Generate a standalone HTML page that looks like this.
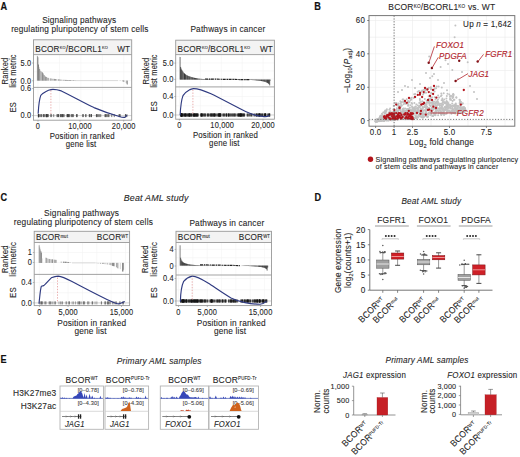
<!DOCTYPE html>
<html><head><meta charset="utf-8"><title>Figure</title>
<style>
html,body{margin:0;padding:0;background:#fff;}
body{width:520px;height:457px;overflow:hidden;}
svg{display:block;font-family:"Liberation Sans",sans-serif;}
</style></head><body>
<svg width="520" height="457" viewBox="0 0 520 457">
<rect width="520" height="457" fill="#fff"/>
<text font-size="9.17" font-weight="bold" letter-spacing="0.19" fill="#111" stroke="#111" stroke-width="0.15" transform="translate(0.60 9.90) scale(1 1.2)">A</text>
<text font-size="9.17" font-weight="bold" letter-spacing="0.19" fill="#111" stroke="#111" stroke-width="0.15" transform="translate(314.30 9.90) scale(1 1.2)">B</text>
<text font-size="9.17" font-weight="bold" letter-spacing="0.19" fill="#111" stroke="#111" stroke-width="0.15" transform="translate(0.60 200.80) scale(1 1.2)">C</text>
<text font-size="9.17" font-weight="bold" letter-spacing="0.19" fill="#111" stroke="#111" stroke-width="0.15" transform="translate(314.60 200.80) scale(1 1.2)">D</text>
<text font-size="9.17" font-weight="bold" letter-spacing="0.19" fill="#111" stroke="#111" stroke-width="0.15" transform="translate(0.60 363.30) scale(1 1.2)">E</text>
<line x1="38.00" y1="54.60" x2="38.00" y2="120.20" stroke="#f3f3f3" stroke-width="0.6"/>
<line x1="59.45" y1="54.60" x2="59.45" y2="120.20" stroke="#f3f3f3" stroke-width="0.6"/>
<line x1="80.90" y1="54.60" x2="80.90" y2="120.20" stroke="#f3f3f3" stroke-width="0.6"/>
<line x1="102.35" y1="54.60" x2="102.35" y2="120.20" stroke="#f3f3f3" stroke-width="0.6"/>
<line x1="123.80" y1="54.60" x2="123.80" y2="120.20" stroke="#f3f3f3" stroke-width="0.6"/>
<line x1="33.50" y1="63.00" x2="131.70" y2="63.00" stroke="#f3f3f3" stroke-width="0.6"/>
<line x1="33.50" y1="71.80" x2="131.70" y2="71.80" stroke="#f3f3f3" stroke-width="0.6"/>
<line x1="33.50" y1="80.60" x2="131.70" y2="80.60" stroke="#f3f3f3" stroke-width="0.6"/>
<line x1="33.50" y1="89.40" x2="131.70" y2="89.40" stroke="#f3f3f3" stroke-width="0.6"/>
<line x1="33.50" y1="102.50" x2="131.70" y2="102.50" stroke="#f3f3f3" stroke-width="0.6"/>
<line x1="33.50" y1="115.60" x2="131.70" y2="115.60" stroke="#f3f3f3" stroke-width="0.6"/>
<rect x="33.50" y="39.80" width="98.20" height="14.80" fill="#f3f3f3" stroke="none" stroke-width="1"/>
<path d="M37.40 80.60V55.90 M42.35 80.60V72.17 M52.80 80.60V78.75 M59.40 80.60V79.47 M69.30 80.60V80.07" stroke="#6a6a6a" stroke-width="0.60" fill="none" opacity="1.0"/><path d="M37.95 80.60V57.25 M45.65 80.60V76.69 M47.85 80.60V77.79 M51.15 80.60V78.54 M58.30 80.60V79.34 M61.05 80.60V79.68 M66.00 80.60V79.95 M68.20 80.60V80.03 M70.40 80.60V80.11 M70.95 80.60V80.12 M72.05 80.60V80.14 M73.15 80.60V80.16 M74.80 80.60V80.20" stroke="#5a5a5a" stroke-width="0.60" fill="none" opacity="1.0"/><path d="M38.50 80.60V64.50 M39.60 80.60V69.04 M42.90 80.60V73.07 M44.00 80.60V75.00 M46.20 80.60V77.01 M54.45 80.60V78.94 M55.55 80.60V79.05 M65.45 80.60V79.93 M67.10 80.60V79.99 M69.85 80.60V80.09 M73.70 80.60V80.17" stroke="#4a4a4a" stroke-width="0.60" fill="none" opacity="1.0"/><path d="M39.05 80.60V67.25 M48.40 80.60V77.94 M56.65 80.60V79.16 M63.80 80.60V79.87 M64.35 80.60V79.89 M66.55 80.60V79.97 M67.65 80.60V80.01" stroke="#8a8a8a" stroke-width="0.60" fill="none" opacity="1.0"/><path d="M40.15 80.60V70.47 M40.70 80.60V71.05 M41.25 80.60V71.55 M41.80 80.60V71.87 M43.45 80.60V74.04 M44.55 80.60V75.59 M45.10 80.60V76.17 M46.75 80.60V77.34 M50.05 80.60V78.41 M50.60 80.60V78.47 M53.90 80.60V78.89 M58.85 80.60V79.41 M60.50 80.60V79.61 M62.15 80.60V79.81 M63.25 80.60V79.85 M68.75 80.60V80.05" stroke="#a0a0a0" stroke-width="0.60" fill="none" opacity="1.0"/><path d="M120.20 80.60V81.02 M126.25 80.60V83.12" stroke="#8a8a8a" stroke-width="0.60" fill="none" opacity="1.0"/><path d="M122.40 80.60V81.24 M126.80 80.60V84.17" stroke="#a0a0a0" stroke-width="0.60" fill="none" opacity="1.0"/><path d="M122.95 80.60V81.30 M123.50 80.60V81.44 M124.05 80.60V81.59 M127.35 80.60V84.52" stroke="#5a5a5a" stroke-width="0.60" fill="none" opacity="1.0"/><path d="M75 80.6H118" stroke="#bbb" stroke-width="0.5"/>
<line x1="33.50" y1="115.60" x2="131.70" y2="115.60" stroke="#c4c4c4" stroke-width="0.7"/>
<path d="M41.91 114.10v3.0 M107.13 114.10v3.0 M96.58 114.10v3.0 M48.38 114.10v3.0 M67.46 114.10v3.0 M63.25 114.10v3.0 M83.50 114.10v3.0 M99.66 114.10v3.0 M40.34 114.10v3.0 M38.60 114.10v3.0 M105.62 114.10v3.0 M61.79 114.10v3.0 M96.40 114.10v3.0 M38.30 114.10v3.0 M62.89 114.10v3.0 M91.51 114.10v3.0 M46.77 114.10v3.0 M120.28 114.10v3.0 M114.28 114.10v3.0 M38.64 114.10v3.0 M38.55 114.10v3.0 M71.91 114.10v3.0 M119.43 114.10v3.0 M57.47 114.10v3.0 M46.06 114.10v3.0 M60.87 114.10v3.0 M38.61 114.10v3.0 M46.35 114.10v3.0 M62.23 114.10v3.0 M67.49 114.10v3.0 M47.03 114.10v3.0 M46.89 114.10v3.0 M46.19 114.10v3.0 M64.16 114.10v3.0 M50.66 114.10v3.0 M38.49 114.10v3.0 M105.85 114.10v3.0 M73.41 114.10v3.0 M82.47 114.10v3.0 M44.38 114.10v3.0 M126.93 114.10v3.0 M108.76 114.10v3.0 M41.35 114.10v3.0 M53.72 114.10v3.0 M91.51 114.10v3.0 M90.30 114.10v3.0 M119.05 114.10v3.0 M60.87 114.10v3.0 M104.88 114.10v3.0 M85.60 114.10v3.0 M51.60 114.10v3.0 M76.61 114.10v3.0 M111.74 114.10v3.0 M106.97 114.10v3.0 M68.39 114.10v3.0 M76.76 114.10v3.0 M38.71 114.10v3.0 M47.61 114.10v3.0 M100.74 114.10v3.0 M60.20 114.10v3.0 M43.72 114.10v3.0 M72.64 114.10v3.0 M89.35 114.10v3.0 M86.07 114.10v3.0 M56.95 114.10v3.0 M62.33 114.10v3.0 M68.69 114.10v3.0 M98.38 114.10v3.0 M69.90 114.10v3.0 M58.45 114.10v3.0 M66.92 114.10v3.0 M38.62 114.10v3.0 M38.89 114.10v3.0 M89.39 114.10v3.0 M125.60 114.10v3.0 M77.20 114.10v3.0 M58.48 114.10v3.0 M43.58 114.10v3.0 M68.10 114.10v3.0 M125.44 114.10v3.0 M97.41 114.10v3.0 M71.73 114.10v3.0 M108.81 114.10v3.0 M46.97 114.10v3.0 M69.20 114.10v3.0" stroke="#333" stroke-width="0.9" fill="none" opacity="0.7"/>
<line x1="50.90" y1="114.10" x2="50.90" y2="89.40" stroke="#e49a9a" stroke-width="0.8" stroke-dasharray="1.4 1.4"/>
<path d="M38.2 113.2 C38.6 106,39.4 99,40.8 95.4 L42.6 93.6 C44 92.7,46 91.3,48.5 90.3 C50 89.8,51.5 89.4,53 89.4 C56 89.4,58.5 90,61.3 90.9 C70 95,85 103.4,94 107.6 C102 111,110 113.8,118.5 116.2 C121 117,123 117.5,124.5 117.4 C125.5 117.2,126.2 116.5,126.7 115.4" fill="none" stroke="#2f3a80" stroke-width="1.15" stroke-linejoin="round" stroke-linecap="round"/>
<rect x="33.50" y="39.80" width="98.20" height="80.40" fill="none" stroke="#999" stroke-width="0.9"/>
<line x1="33.50" y1="54.60" x2="131.70" y2="54.60" stroke="#999" stroke-width="0.9"/>
<line x1="33.50" y1="87.40" x2="131.70" y2="87.40" stroke="#999" stroke-width="0.9"/>
<text font-size="8.21" letter-spacing="0.17" fill="#262626" stroke="#262626" stroke-width="0.09" transform="translate(35.30 51.60) scale(1 1.1)"><tspan>BCOR</tspan><tspan font-size="3.94" dy="-2.41">KO</tspan><tspan dy="2.41">/BCORL1</tspan><tspan font-size="3.94" dy="-2.41">KO</tspan></text>
<text font-size="8.21" text-anchor="end" letter-spacing="0.17" fill="#262626" stroke="#262626" stroke-width="0.09" transform="translate(130.30 51.60) scale(1 1.1)">WT</text>
<text font-size="7.45" text-anchor="end" letter-spacing="0.16" fill="#262626" stroke="#262626" stroke-width="0.09" transform="translate(31.30 65.75) scale(1 1.1)">5.0</text>
<line x1="32.10" y1="63.00" x2="33.50" y2="63.00" stroke="#8c8c8c" stroke-width="0.6"/>
<text font-size="7.45" text-anchor="end" letter-spacing="0.16" fill="#262626" stroke="#262626" stroke-width="0.09" transform="translate(31.30 83.55) scale(1 1.1)">0.0</text>
<line x1="32.10" y1="80.80" x2="33.50" y2="80.80" stroke="#8c8c8c" stroke-width="0.6"/>
<text font-size="7.45" text-anchor="end" letter-spacing="0.16" fill="#262626" stroke="#262626" stroke-width="0.09" transform="translate(31.30 91.35) scale(1 1.1)">0.6</text>
<line x1="32.10" y1="88.60" x2="33.50" y2="88.60" stroke="#8c8c8c" stroke-width="0.6"/>
<text font-size="7.45" text-anchor="end" letter-spacing="0.16" fill="#262626" stroke="#262626" stroke-width="0.09" transform="translate(31.30 118.35) scale(1 1.1)">0.0</text>
<line x1="32.10" y1="115.60" x2="33.50" y2="115.60" stroke="#8c8c8c" stroke-width="0.6"/>
<text font-size="7.45" text-anchor="middle" letter-spacing="0.16" fill="#262626" stroke="#262626" stroke-width="0.09" transform="translate(38.00 128.70) scale(1 1.1)">0</text>
<line x1="38.00" y1="120.20" x2="38.00" y2="121.60" stroke="#8c8c8c" stroke-width="0.6"/>
<text font-size="7.45" text-anchor="middle" letter-spacing="0.16" fill="#262626" stroke="#262626" stroke-width="0.09" transform="translate(80.00 128.70) scale(1 1.1)">10,000</text>
<line x1="80.00" y1="120.20" x2="80.00" y2="121.60" stroke="#8c8c8c" stroke-width="0.6"/>
<text font-size="7.45" text-anchor="middle" letter-spacing="0.16" fill="#262626" stroke="#262626" stroke-width="0.09" transform="translate(123.70 128.70) scale(1 1.1)">20,000</text>
<line x1="123.70" y1="120.20" x2="123.70" y2="121.60" stroke="#8c8c8c" stroke-width="0.6"/>
<text font-size="7.54" text-anchor="middle" letter-spacing="0.16" fill="#262626" stroke="#262626" stroke-width="0.09" transform="translate(8.10 71.00) rotate(-90) scale(1 1.1)">Ranked</text>
<text font-size="7.54" text-anchor="middle" letter-spacing="0.16" fill="#262626" stroke="#262626" stroke-width="0.09" transform="translate(16.00 71.00) rotate(-90) scale(1 1.1)">list metric</text>
<text font-size="7.54" text-anchor="middle" letter-spacing="0.16" fill="#262626" stroke="#262626" stroke-width="0.09" transform="translate(16.00 107.20) rotate(-90) scale(1 1.1)">ES</text>
<text font-size="7.83" text-anchor="middle" letter-spacing="0.16" fill="#262626" stroke="#262626" stroke-width="0.09" transform="translate(82.20 138.50) scale(1 1.1)">Position in ranked</text>
<text font-size="7.83" text-anchor="middle" letter-spacing="0.16" fill="#262626" stroke="#262626" stroke-width="0.09" transform="translate(81.10 146.70) scale(1 1.1)">gene list</text>
<text font-size="8.26" text-anchor="middle" letter-spacing="0.17" fill="#262626" stroke="#262626" stroke-width="0.09" transform="translate(79.20 22.90) scale(1 1.1)">Signaling pathways</text>
<text font-size="8.26" text-anchor="middle" letter-spacing="0.17" fill="#262626" stroke="#262626" stroke-width="0.09" transform="translate(79.90 32.10) scale(1 1.1)">regulating pluripotency of stem cells</text>
<line x1="179.50" y1="54.60" x2="179.50" y2="119.20" stroke="#f3f3f3" stroke-width="0.6"/>
<line x1="200.40" y1="54.60" x2="200.40" y2="119.20" stroke="#f3f3f3" stroke-width="0.6"/>
<line x1="221.30" y1="54.60" x2="221.30" y2="119.20" stroke="#f3f3f3" stroke-width="0.6"/>
<line x1="242.20" y1="54.60" x2="242.20" y2="119.20" stroke="#f3f3f3" stroke-width="0.6"/>
<line x1="263.10" y1="54.60" x2="263.10" y2="119.20" stroke="#f3f3f3" stroke-width="0.6"/>
<line x1="175.70" y1="63.00" x2="274.40" y2="63.00" stroke="#f3f3f3" stroke-width="0.6"/>
<line x1="175.70" y1="71.00" x2="274.40" y2="71.00" stroke="#f3f3f3" stroke-width="0.6"/>
<line x1="175.70" y1="79.00" x2="274.40" y2="79.00" stroke="#f3f3f3" stroke-width="0.6"/>
<line x1="175.70" y1="87.30" x2="274.40" y2="87.30" stroke="#f3f3f3" stroke-width="0.6"/>
<line x1="175.70" y1="96.50" x2="274.40" y2="96.50" stroke="#f3f3f3" stroke-width="0.6"/>
<line x1="175.70" y1="105.80" x2="274.40" y2="105.80" stroke="#f3f3f3" stroke-width="0.6"/>
<line x1="175.70" y1="115.00" x2="274.40" y2="115.00" stroke="#f3f3f3" stroke-width="0.6"/>
<rect x="175.70" y="40.20" width="98.70" height="14.40" fill="#f3f3f3" stroke="none" stroke-width="1"/>
<path d="M180.10 79.60V57.00 M181.75 79.60V69.87 M187.80 79.60V75.74 M188.35 79.60V76.02 M191.65 79.60V77.08 M192.20 79.60V77.26 M192.75 79.60V77.43 M195.50 79.60V78.07 M202.65 79.60V79.00 M204.85 79.60V79.19 M205.95 79.60V79.23 M213.10 79.60V79.44" stroke="#1a1a1a" stroke-width="0.60" fill="none" opacity="1.0"/><path d="M180.65 79.60V66.95 M181.20 79.60V68.60 M182.85 79.60V71.49 M183.95 79.60V72.97 M185.05 79.60V73.95 M187.25 79.60V75.45 M189.45 79.60V76.40 M190.00 79.60V76.57 M193.30 79.60V77.60 M196.05 79.60V78.19 M199.35 79.60V78.72 M201.55 79.60V78.90 M208.70 79.60V79.31 M209.80 79.60V79.34 M210.90 79.60V79.38 M211.45 79.60V79.39 M212.55 79.60V79.43" stroke="#111" stroke-width="0.60" fill="none" opacity="1.0"/><path d="M182.30 79.60V70.68 M186.70 79.60V75.16 M197.15 79.60V78.42 M198.25 79.60V78.62 M203.20 79.60V79.05 M206.50 79.60V79.25 M207.60 79.60V79.28 M210.35 79.60V79.36" stroke="#333" stroke-width="0.60" fill="none" opacity="1.0"/><path d="M183.40 79.60V72.31 M186.15 79.60V74.88 M188.90 79.60V76.23 M190.55 79.60V76.74 M191.10 79.60V76.91 M193.85 79.60V77.72 M198.80 79.60V78.67 M199.90 79.60V78.76 M200.45 79.60V78.81 M201.00 79.60V78.86 M202.10 79.60V78.95 M205.40 79.60V79.21 M207.05 79.60V79.26 M208.15 79.60V79.29 M209.25 79.60V79.33 M212.00 79.60V79.41" stroke="#4d4d4d" stroke-width="0.60" fill="none" opacity="1.0"/><path d="M184.50 79.60V73.46 M185.60 79.60V74.44 M194.40 79.60V77.83 M194.95 79.60V77.95 M196.60 79.60V78.30 M197.70 79.60V78.54 M203.75 79.60V79.09 M204.30 79.60V79.14" stroke="#000" stroke-width="0.60" fill="none" opacity="1.0"/><path d="M244.95 79.60V79.77 M247.70 79.60V79.86 M252.10 79.60V80.06 M254.85 79.60V80.19 M256.50 79.60V80.38 M258.70 79.60V80.64 M259.25 79.60V80.71 M264.20 79.60V81.57 M264.75 79.60V81.78 M265.30 79.60V81.98" stroke="#1a1a1a" stroke-width="0.60" fill="none" opacity="1.0"/><path d="M245.50 79.60V79.78 M251.00 79.60V80.00 M253.75 79.60V80.14 M254.30 79.60V80.17 M255.95 79.60V80.31 M257.60 79.60V80.51 M258.15 79.60V80.58 M259.80 79.60V80.78 M260.35 79.60V80.86 M260.90 79.60V80.96 M262.55 79.60V81.25 M266.40 79.60V82.38 M268.05 79.60V83.34 M269.15 79.60V84.30 M270.25 79.60V80.67" stroke="#333" stroke-width="0.60" fill="none" opacity="1.0"/><path d="M246.05 79.60V79.80 M248.25 79.60V79.88 M248.80 79.60V79.89 M249.35 79.60V79.92 M251.55 79.60V80.03 M255.40 79.60V80.25 M257.05 79.60V80.45 M261.45 79.60V81.05 M266.95 79.60V82.58 M268.60 79.60V83.72" stroke="#000" stroke-width="0.60" fill="none" opacity="1.0"/><path d="M246.60 79.60V79.82 M247.15 79.60V79.84 M249.90 79.60V79.95 M263.10 79.60V81.34 M265.85 79.60V82.18" stroke="#4d4d4d" stroke-width="0.60" fill="none" opacity="1.0"/><path d="M250.45 79.60V79.97 M252.65 79.60V80.08 M253.20 79.60V80.11 M262.00 79.60V81.15 M263.65 79.60V81.44 M267.50 79.60V82.95 M269.70 79.60V85.40" stroke="#111" stroke-width="0.60" fill="none" opacity="1.0"/><path d="M205 79.0L250 79.7" stroke="#222" stroke-width="1.2" stroke-dasharray="3 0.8 1.5 0.6"/>
<line x1="175.70" y1="115.00" x2="274.40" y2="115.00" stroke="#c4c4c4" stroke-width="0.7"/>
<path d="M265.10 113.50v3.0 M264.20 113.50v3.0 M182.87 113.50v3.0 M184.50 113.50v3.0 M251.97 113.50v3.0 M241.48 113.50v3.0 M234.69 113.50v3.0 M200.97 113.50v3.0 M228.30 113.50v3.0 M228.39 113.50v3.0 M225.87 113.50v3.0 M189.35 113.50v3.0 M211.66 113.50v3.0 M208.33 113.50v3.0 M240.14 113.50v3.0 M269.42 113.50v3.0 M264.37 113.50v3.0 M222.28 113.50v3.0 M212.95 113.50v3.0 M197.70 113.50v3.0 M181.80 113.50v3.0 M181.40 113.50v3.0 M214.80 113.50v3.0 M201.84 113.50v3.0 M207.13 113.50v3.0 M258.05 113.50v3.0 M220.51 113.50v3.0 M223.85 113.50v3.0 M195.15 113.50v3.0 M181.24 113.50v3.0 M202.40 113.50v3.0 M187.85 113.50v3.0 M219.04 113.50v3.0 M269.85 113.50v3.0 M235.17 113.50v3.0 M191.04 113.50v3.0 M258.24 113.50v3.0 M247.85 113.50v3.0 M241.32 113.50v3.0 M259.66 113.50v3.0 M244.28 113.50v3.0 M247.11 113.50v3.0 M204.85 113.50v3.0 M267.87 113.50v3.0 M265.75 113.50v3.0 M189.55 113.50v3.0 M243.35 113.50v3.0 M239.33 113.50v3.0 M214.47 113.50v3.0 M220.95 113.50v3.0 M217.13 113.50v3.0 M261.66 113.50v3.0 M218.15 113.50v3.0 M251.55 113.50v3.0 M204.86 113.50v3.0 M257.08 113.50v3.0 M258.91 113.50v3.0 M214.44 113.50v3.0 M224.55 113.50v3.0 M261.17 113.50v3.0 M240.22 113.50v3.0 M216.82 113.50v3.0 M194.04 113.50v3.0 M202.36 113.50v3.0 M237.73 113.50v3.0 M189.90 113.50v3.0 M259.81 113.50v3.0 M197.69 113.50v3.0 M260.19 113.50v3.0 M201.09 113.50v3.0 M265.25 113.50v3.0 M238.41 113.50v3.0 M218.47 113.50v3.0 M219.75 113.50v3.0 M232.84 113.50v3.0 M226.53 113.50v3.0 M201.28 113.50v3.0 M192.97 113.50v3.0 M219.20 113.50v3.0 M262.69 113.50v3.0 M230.02 113.50v3.0 M183.94 113.50v3.0 M250.36 113.50v3.0 M240.44 113.50v3.0 M259.78 113.50v3.0 M191.74 113.50v3.0 M242.39 113.50v3.0 M182.99 113.50v3.0 M232.99 113.50v3.0 M198.09 113.50v3.0 M194.41 113.50v3.0 M256.28 113.50v3.0 M185.84 113.50v3.0 M220.19 113.50v3.0 M253.95 113.50v3.0 M195.83 113.50v3.0 M193.17 113.50v3.0 M256.83 113.50v3.0 M210.96 113.50v3.0 M239.51 113.50v3.0 M181.61 113.50v3.0 M205.59 113.50v3.0 M190.32 113.50v3.0 M234.99 113.50v3.0 M184.39 113.50v3.0 M264.94 113.50v3.0 M181.31 113.50v3.0 M240.80 113.50v3.0 M181.12 113.50v3.0 M196.69 113.50v3.0 M249.61 113.50v3.0 M189.26 113.50v3.0 M191.18 113.50v3.0 M236.90 113.50v3.0 M207.62 113.50v3.0 M182.16 113.50v3.0 M268.88 113.50v3.0 M188.86 113.50v3.0 M181.82 113.50v3.0 M204.02 113.50v3.0 M229.22 113.50v3.0 M242.15 113.50v3.0 M186.28 113.50v3.0 M203.42 113.50v3.0 M181.56 113.50v3.0 M213.30 113.50v3.0 M244.61 113.50v3.0 M241.89 113.50v3.0 M259.16 113.50v3.0 M243.53 113.50v3.0 M254.87 113.50v3.0 M238.32 113.50v3.0 M215.53 113.50v3.0 M194.33 113.50v3.0 M233.78 113.50v3.0 M201.65 113.50v3.0 M185.57 113.50v3.0 M213.22 113.50v3.0 M256.20 113.50v3.0 M187.23 113.50v3.0 M226.24 113.50v3.0 M208.28 113.50v3.0 M219.47 113.50v3.0 M188.34 113.50v3.0 M265.51 113.50v3.0 M196.96 113.50v3.0 M228.31 113.50v3.0 M210.67 113.50v3.0 M180.99 113.50v3.0 M223.61 113.50v3.0 M188.11 113.50v3.0 M182.88 113.50v3.0 M181.69 113.50v3.0 M189.55 113.50v3.0 M185.18 113.50v3.0 M231.20 113.50v3.0 M218.85 113.50v3.0 M268.15 113.50v3.0 M262.68 113.50v3.0 M269.39 113.50v3.0 M194.86 113.50v3.0 M212.94 113.50v3.0 M196.30 113.50v3.0 M226.85 113.50v3.0 M230.11 113.50v3.0 M248.21 113.50v3.0 M238.74 113.50v3.0 M196.76 113.50v3.0 M210.97 113.50v3.0 M220.55 113.50v3.0 M180.51 113.50v3.0 M181.78 113.50v3.0 M209.68 113.50v3.0 M186.15 113.50v3.0 M240.21 113.50v3.0 M195.52 113.50v3.0 M185.42 113.50v3.0 M191.03 113.50v3.0 M194.79 113.50v3.0 M193.70 113.50v3.0 M220.04 113.50v3.0 M214.75 113.50v3.0 M201.10 113.50v3.0 M231.87 113.50v3.0 M193.32 113.50v3.0 M259.66 113.50v3.0 M265.89 113.50v3.0 M240.75 113.50v3.0 M211.94 113.50v3.0 M219.16 113.50v3.0" stroke="#111" stroke-width="0.9" fill="none" opacity="0.8"/>
<line x1="192.90" y1="113.50" x2="192.90" y2="88.80" stroke="#e49a9a" stroke-width="0.8" stroke-dasharray="1.4 1.4"/>
<path d="M180.2 114.8 C180.6 106,181.5 99.5,183 95.6 C184.8 92.4,187.5 91,190 89.6 C191.5 89,192.3 88.6,193.5 88.6 C198 88.6,204 90.6,211 93.8 C221 98.6,234 105.8,245.6 111.6 C251 114.2,257 116,262.9 116.4 C265.5 116.8,267.5 116.6,269.2 115.5" fill="none" stroke="#2f3a80" stroke-width="1.15" stroke-linejoin="round" stroke-linecap="round"/>
<rect x="175.70" y="40.20" width="98.70" height="79.00" fill="none" stroke="#999" stroke-width="0.9"/>
<line x1="175.70" y1="54.60" x2="274.40" y2="54.60" stroke="#999" stroke-width="0.9"/>
<line x1="175.70" y1="86.90" x2="274.40" y2="86.90" stroke="#999" stroke-width="0.9"/>
<text font-size="8.21" letter-spacing="0.17" fill="#262626" stroke="#262626" stroke-width="0.09" transform="translate(177.50 51.60) scale(1 1.1)"><tspan>BCOR</tspan><tspan font-size="3.94" dy="-2.41">KO</tspan><tspan dy="2.41">/BCORL1</tspan><tspan font-size="3.94" dy="-2.41">KO</tspan></text>
<text font-size="8.21" text-anchor="end" letter-spacing="0.17" fill="#262626" stroke="#262626" stroke-width="0.09" transform="translate(273.00 51.60) scale(1 1.1)">WT</text>
<text font-size="7.45" text-anchor="end" letter-spacing="0.16" fill="#262626" stroke="#262626" stroke-width="0.09" transform="translate(173.50 65.85) scale(1 1.1)">5.0</text>
<line x1="174.30" y1="63.10" x2="175.70" y2="63.10" stroke="#8c8c8c" stroke-width="0.6"/>
<text font-size="7.45" text-anchor="end" letter-spacing="0.16" fill="#262626" stroke="#262626" stroke-width="0.09" transform="translate(173.50 82.15) scale(1 1.1)">0.0</text>
<line x1="174.30" y1="79.40" x2="175.70" y2="79.40" stroke="#8c8c8c" stroke-width="0.6"/>
<text font-size="7.45" text-anchor="end" letter-spacing="0.16" fill="#262626" stroke="#262626" stroke-width="0.09" transform="translate(173.50 99.25) scale(1 1.1)">0.4</text>
<line x1="174.30" y1="96.50" x2="175.70" y2="96.50" stroke="#8c8c8c" stroke-width="0.6"/>
<text font-size="7.45" text-anchor="end" letter-spacing="0.16" fill="#262626" stroke="#262626" stroke-width="0.09" transform="translate(173.50 117.75) scale(1 1.1)">0.0</text>
<line x1="174.30" y1="115.00" x2="175.70" y2="115.00" stroke="#8c8c8c" stroke-width="0.6"/>
<text font-size="7.45" text-anchor="middle" letter-spacing="0.16" fill="#262626" stroke="#262626" stroke-width="0.09" transform="translate(179.40 128.00) scale(1 1.1)">0</text>
<line x1="179.40" y1="119.20" x2="179.40" y2="120.60" stroke="#8c8c8c" stroke-width="0.6"/>
<text font-size="7.45" text-anchor="middle" letter-spacing="0.16" fill="#262626" stroke="#262626" stroke-width="0.09" transform="translate(222.20 128.00) scale(1 1.1)">10,000</text>
<line x1="222.20" y1="119.20" x2="222.20" y2="120.60" stroke="#8c8c8c" stroke-width="0.6"/>
<text font-size="7.45" text-anchor="middle" letter-spacing="0.16" fill="#262626" stroke="#262626" stroke-width="0.09" transform="translate(263.00 128.00) scale(1 1.1)">20,000</text>
<line x1="263.00" y1="119.20" x2="263.00" y2="120.60" stroke="#8c8c8c" stroke-width="0.6"/>
<text font-size="7.54" text-anchor="middle" letter-spacing="0.16" fill="#262626" stroke="#262626" stroke-width="0.09" transform="translate(148.60 71.00) rotate(-90) scale(1 1.1)">Ranked</text>
<text font-size="7.54" text-anchor="middle" letter-spacing="0.16" fill="#262626" stroke="#262626" stroke-width="0.09" transform="translate(157.20 71.00) rotate(-90) scale(1 1.1)">list metric</text>
<text font-size="7.54" text-anchor="middle" letter-spacing="0.16" fill="#262626" stroke="#262626" stroke-width="0.09" transform="translate(157.20 106.30) rotate(-90) scale(1 1.1)">ES</text>
<text font-size="7.83" text-anchor="middle" letter-spacing="0.16" fill="#262626" stroke="#262626" stroke-width="0.09" transform="translate(225.50 137.70) scale(1 1.1)">Position in ranked</text>
<text font-size="7.83" text-anchor="middle" letter-spacing="0.16" fill="#262626" stroke="#262626" stroke-width="0.09" transform="translate(224.40 145.90) scale(1 1.1)">gene list</text>
<text font-size="8.31" text-anchor="middle" letter-spacing="0.17" fill="#262626" stroke="#262626" stroke-width="0.09" transform="translate(227.90 32.20) scale(1 1.1)">Pathways in cancer</text>
<line x1="39.40" y1="242.50" x2="39.40" y2="305.60" stroke="#f3f3f3" stroke-width="0.6"/>
<line x1="53.75" y1="242.50" x2="53.75" y2="305.60" stroke="#f3f3f3" stroke-width="0.6"/>
<line x1="68.10" y1="242.50" x2="68.10" y2="305.60" stroke="#f3f3f3" stroke-width="0.6"/>
<line x1="82.45" y1="242.50" x2="82.45" y2="305.60" stroke="#f3f3f3" stroke-width="0.6"/>
<line x1="96.80" y1="242.50" x2="96.80" y2="305.60" stroke="#f3f3f3" stroke-width="0.6"/>
<line x1="111.15" y1="242.50" x2="111.15" y2="305.60" stroke="#f3f3f3" stroke-width="0.6"/>
<line x1="125.50" y1="242.50" x2="125.50" y2="305.60" stroke="#f3f3f3" stroke-width="0.6"/>
<line x1="34.20" y1="252.50" x2="129.60" y2="252.50" stroke="#f3f3f3" stroke-width="0.6"/>
<line x1="34.20" y1="262.50" x2="129.60" y2="262.50" stroke="#f3f3f3" stroke-width="0.6"/>
<line x1="34.20" y1="282.50" x2="129.60" y2="282.50" stroke="#f3f3f3" stroke-width="0.6"/>
<line x1="34.20" y1="292.70" x2="129.60" y2="292.70" stroke="#f3f3f3" stroke-width="0.6"/>
<line x1="34.20" y1="302.90" x2="129.60" y2="302.90" stroke="#f3f3f3" stroke-width="0.6"/>
<rect x="34.20" y="231.30" width="95.40" height="11.20" fill="#f3f3f3" stroke="none" stroke-width="1"/>
<path d="M39.20 262.90V245.30 M40.85 262.90V251.05 M46.35 262.90V257.90" stroke="#5a5a5a" stroke-width="0.60" fill="none" opacity="1.0"/><path d="M39.75 262.90V247.50 M40.30 262.90V249.40 M52.95 262.90V259.49 M61.20 262.90V261.50 M65.60 262.90V261.77" stroke="#8a8a8a" stroke-width="0.60" fill="none" opacity="1.0"/><path d="M41.40 262.90V252.61 M65.05 262.90V261.74 M66.15 262.90V261.81 M67.80 262.90V261.98" stroke="#4a4a4a" stroke-width="0.60" fill="none" opacity="1.0"/><path d="M41.95 262.90V258.45 M45.80 262.90V257.63 M47.45 262.90V258.43 M48.55 262.90V258.79 M50.20 262.90V259.05 M56.25 262.90V259.91 M66.70 262.90V261.87 M70.55 262.90V262.39" stroke="#a0a0a0" stroke-width="0.60" fill="none" opacity="1.0"/><path d="M49.65 262.90V258.96 M51.85 262.90V259.32 M52.40 262.90V259.40 M54.60 262.90V259.70 M55.70 262.90V259.84 M63.40 262.90V261.64 M63.95 262.90V261.67 M68.35 262.90V262.03 M68.90 262.90V262.09" stroke="#6a6a6a" stroke-width="0.60" fill="none" opacity="1.0"/><path d="M95.55 262.90V263.07 M97.20 262.90V263.26 M118.10 262.90V268.53" stroke="#a0a0a0" stroke-width="0.60" fill="none" opacity="1.0"/><path d="M96.10 262.90V263.13 M113.15 262.90V266.04" stroke="#4a4a4a" stroke-width="0.60" fill="none" opacity="1.0"/><path d="M97.75 262.90V263.33 M102.15 262.90V263.81 M112.05 262.90V265.62 M120.30 262.90V269.14" stroke="#bbb" stroke-width="0.60" fill="none" opacity="1.0"/><path d="M98.85 262.90V263.46 M102.70 262.90V263.87 M104.90 262.90V264.13 M107.65 262.90V264.55 M109.85 262.90V264.97 M114.25 262.90V266.30 M117.55 262.90V268.16 M123.60 262.90V269.80" stroke="#8a8a8a" stroke-width="0.60" fill="none" opacity="1.0"/><path d="M100.50 262.90V263.65 M103.25 262.90V263.93 M112.60 262.90V265.84 M122.50 262.90V271.50 M123.05 262.90V271.50" stroke="#5a5a5a" stroke-width="0.60" fill="none" opacity="1.0"/><path d="M103.80 262.90V263.98 M105.45 262.90V264.22 M106.55 262.90V264.38 M109.30 262.90V264.86" stroke="#ccc" stroke-width="0.60" fill="none" opacity="1.0"/><path d="M110.95 262.90V265.19 M113.70 262.90V266.17 M116.45 262.90V267.32" stroke="#6a6a6a" stroke-width="0.60" fill="none" opacity="1.0"/><path d="M72 262.9H95" stroke="#bbb" stroke-width="0.5"/>
<line x1="34.20" y1="302.90" x2="129.60" y2="302.90" stroke="#c4c4c4" stroke-width="0.7"/>
<path d="M50.82 301.40v3.0 M75.55 301.40v3.0 M60.50 301.40v3.0 M81.21 301.40v3.0 M83.33 301.40v3.0 M41.36 301.40v3.0 M39.70 301.40v3.0 M105.42 301.40v3.0 M52.27 301.40v3.0 M50.58 301.40v3.0 M123.49 301.40v3.0 M68.89 301.40v3.0 M105.31 301.40v3.0 M69.42 301.40v3.0 M84.65 301.40v3.0 M45.47 301.40v3.0 M84.23 301.40v3.0 M108.81 301.40v3.0 M73.62 301.40v3.0 M95.07 301.40v3.0 M87.88 301.40v3.0 M41.30 301.40v3.0 M96.86 301.40v3.0 M79.97 301.40v3.0 M55.25 301.40v3.0 M40.15 301.40v3.0 M108.53 301.40v3.0 M69.10 301.40v3.0 M92.73 301.40v3.0 M110.02 301.40v3.0 M92.24 301.40v3.0 M114.82 301.40v3.0 M62.52 301.40v3.0 M101.43 301.40v3.0 M66.67 301.40v3.0 M116.48 301.40v3.0 M110.03 301.40v3.0 M42.74 301.40v3.0 M44.67 301.40v3.0 M49.45 301.40v3.0 M119.94 301.40v3.0 M65.95 301.40v3.0 M83.42 301.40v3.0 M55.24 301.40v3.0 M72.17 301.40v3.0 M61.78 301.40v3.0 M59.00 301.40v3.0 M79.40 301.40v3.0 M79.32 301.40v3.0 M112.89 301.40v3.0 M88.95 301.40v3.0 M115.72 301.40v3.0 M107.51 301.40v3.0 M122.94 301.40v3.0 M87.86 301.40v3.0 M46.17 301.40v3.0 M107.99 301.40v3.0 M119.85 301.40v3.0 M112.94 301.40v3.0 M77.88 301.40v3.0 M92.21 301.40v3.0 M49.08 301.40v3.0 M104.77 301.40v3.0 M78.30 301.40v3.0 M54.07 301.40v3.0 M41.28 301.40v3.0 M107.24 301.40v3.0 M122.80 301.40v3.0 M42.34 301.40v3.0 M101.39 301.40v3.0" stroke="#444" stroke-width="0.8" fill="none" opacity="0.6"/>
<line x1="57.50" y1="301.40" x2="57.50" y2="276.30" stroke="#e49a9a" stroke-width="0.8" stroke-dasharray="1.4 1.4"/>
<path d="M39 303.2 L39.6 298 C40.2 292,40.8 288,41.3 286.3 L43.8 285.6 C46 284,48.5 280.5,51.3 277.8 C54 276.6,56 276.1,58.2 276.1 C62 276.5,66 278.4,72 281.5 C85 288.4,100 296.2,110.4 301.1 C114 302.7,116.5 303.9,118.5 303.9 C120.5 303.7,122.5 302.4,124.4 301.7" fill="none" stroke="#2f3a80" stroke-width="1.15" stroke-linejoin="round" stroke-linecap="round"/>
<rect x="34.20" y="231.30" width="95.40" height="74.30" fill="none" stroke="#999" stroke-width="0.9"/>
<line x1="34.20" y1="242.50" x2="129.60" y2="242.50" stroke="#999" stroke-width="0.9"/>
<line x1="34.20" y1="274.40" x2="129.60" y2="274.40" stroke="#999" stroke-width="0.9"/>
<text font-size="8.21" letter-spacing="0.17" fill="#262626" stroke="#262626" stroke-width="0.09" transform="translate(36.00 240.10) scale(1 1.1)"><tspan>BCOR</tspan><tspan font-size="4.27" dy="-2.24">mut</tspan></text>
<text font-size="8.21" text-anchor="end" letter-spacing="0.17" fill="#262626" stroke="#262626" stroke-width="0.09" transform="translate(128.20 240.10) scale(1 1.1)"><tspan>BCOR</tspan><tspan font-size="4.27" dy="-2.24">WT</tspan></text>
<text font-size="7.45" text-anchor="end" letter-spacing="0.16" fill="#262626" stroke="#262626" stroke-width="0.09" transform="translate(32.00 255.25) scale(1 1.1)">1</text>
<line x1="32.80" y1="252.50" x2="34.20" y2="252.50" stroke="#8c8c8c" stroke-width="0.6"/>
<text font-size="7.45" text-anchor="end" letter-spacing="0.16" fill="#262626" stroke="#262626" stroke-width="0.09" transform="translate(32.00 265.25) scale(1 1.1)">0</text>
<line x1="32.80" y1="262.50" x2="34.20" y2="262.50" stroke="#8c8c8c" stroke-width="0.6"/>
<text font-size="7.45" text-anchor="end" letter-spacing="0.16" fill="#262626" stroke="#262626" stroke-width="0.09" transform="translate(32.00 285.25) scale(1 1.1)">0.4</text>
<line x1="32.80" y1="282.50" x2="34.20" y2="282.50" stroke="#8c8c8c" stroke-width="0.6"/>
<text font-size="7.45" text-anchor="end" letter-spacing="0.16" fill="#262626" stroke="#262626" stroke-width="0.09" transform="translate(32.00 305.65) scale(1 1.1)">0.0</text>
<line x1="32.80" y1="302.90" x2="34.20" y2="302.90" stroke="#8c8c8c" stroke-width="0.6"/>
<text font-size="7.45" text-anchor="middle" letter-spacing="0.16" fill="#262626" stroke="#262626" stroke-width="0.09" transform="translate(39.40 315.10) scale(1 1.1)">0</text>
<line x1="39.40" y1="305.60" x2="39.40" y2="307.00" stroke="#8c8c8c" stroke-width="0.6"/>
<text font-size="7.45" text-anchor="middle" letter-spacing="0.16" fill="#262626" stroke="#262626" stroke-width="0.09" transform="translate(68.10 315.10) scale(1 1.1)">5,000</text>
<line x1="68.10" y1="305.60" x2="68.10" y2="307.00" stroke="#8c8c8c" stroke-width="0.6"/>
<text font-size="7.45" text-anchor="middle" letter-spacing="0.16" fill="#262626" stroke="#262626" stroke-width="0.09" transform="translate(121.50 315.10) scale(1 1.1)">15,000</text>
<line x1="121.50" y1="305.60" x2="121.50" y2="307.00" stroke="#8c8c8c" stroke-width="0.6"/>
<text font-size="7.83" text-anchor="middle" letter-spacing="0.16" fill="#262626" stroke="#262626" stroke-width="0.09" transform="translate(7.90 259.30) rotate(-90) scale(1 1.1)">Ranked</text>
<text font-size="7.83" text-anchor="middle" letter-spacing="0.16" fill="#262626" stroke="#262626" stroke-width="0.09" transform="translate(15.70 259.30) rotate(-90) scale(1 1.1)">list metric</text>
<text font-size="7.83" text-anchor="middle" letter-spacing="0.16" fill="#262626" stroke="#262626" stroke-width="0.09" transform="translate(15.70 292.50) rotate(-90) scale(1 1.1)">ES</text>
<text font-size="8.31" text-anchor="middle" letter-spacing="0.17" fill="#262626" stroke="#262626" stroke-width="0.09" transform="translate(91.70 325.50) scale(1 1.1)">Position in ranked</text>
<text font-size="8.31" text-anchor="middle" letter-spacing="0.17" fill="#262626" stroke="#262626" stroke-width="0.09" transform="translate(90.60 334.20) scale(1 1.1)">gene list</text>
<text font-size="8.36" text-anchor="middle" letter-spacing="0.18" fill="#262626" stroke="#262626" stroke-width="0.09" transform="translate(81.60 216.30) scale(1 1.1)">Signaling pathways</text>
<text font-size="8.36" text-anchor="middle" letter-spacing="0.18" fill="#262626" stroke="#262626" stroke-width="0.09" transform="translate(83.40 224.80) scale(1 1.1)">regulating pluripotency of stem cells</text>
<text font-size="8.88" text-anchor="middle" font-style="italic" letter-spacing="0.19" fill="#262626" stroke="#262626" stroke-width="0.09" transform="translate(156.10 200.60) scale(1 1.1)">Beat AML study</text>
<line x1="178.50" y1="242.50" x2="178.50" y2="305.60" stroke="#f3f3f3" stroke-width="0.6"/>
<line x1="192.85" y1="242.50" x2="192.85" y2="305.60" stroke="#f3f3f3" stroke-width="0.6"/>
<line x1="207.20" y1="242.50" x2="207.20" y2="305.60" stroke="#f3f3f3" stroke-width="0.6"/>
<line x1="221.55" y1="242.50" x2="221.55" y2="305.60" stroke="#f3f3f3" stroke-width="0.6"/>
<line x1="235.90" y1="242.50" x2="235.90" y2="305.60" stroke="#f3f3f3" stroke-width="0.6"/>
<line x1="250.25" y1="242.50" x2="250.25" y2="305.60" stroke="#f3f3f3" stroke-width="0.6"/>
<line x1="264.60" y1="242.50" x2="264.60" y2="305.60" stroke="#f3f3f3" stroke-width="0.6"/>
<line x1="176.00" y1="249.40" x2="271.50" y2="249.40" stroke="#f3f3f3" stroke-width="0.6"/>
<line x1="176.00" y1="257.70" x2="271.50" y2="257.70" stroke="#f3f3f3" stroke-width="0.6"/>
<line x1="176.00" y1="266.00" x2="271.50" y2="266.00" stroke="#f3f3f3" stroke-width="0.6"/>
<line x1="176.00" y1="278.50" x2="271.50" y2="278.50" stroke="#f3f3f3" stroke-width="0.6"/>
<line x1="176.00" y1="289.70" x2="271.50" y2="289.70" stroke="#f3f3f3" stroke-width="0.6"/>
<line x1="176.00" y1="301.00" x2="271.50" y2="301.00" stroke="#f3f3f3" stroke-width="0.6"/>
<rect x="176.00" y="231.30" width="95.50" height="11.20" fill="#f3f3f3" stroke="none" stroke-width="1"/>
<path d="M180.10 265.60V245.30 M183.95 265.60V262.75 M199.35 265.60V265.21 M202.65 265.60V265.32 M206.50 265.60V265.40 M212.55 265.60V265.42 M214.75 265.60V265.42" stroke="#333" stroke-width="0.60" fill="none" opacity="1.0"/><path d="M180.65 265.60V257.74 M186.15 265.60V263.62 M189.45 265.60V264.47 M193.30 265.60V264.88 M197.15 265.60V265.14 M198.80 265.60V265.19 M200.45 265.60V265.25 M203.75 265.60V265.36 M205.95 265.60V265.40 M210.35 265.60V265.41" stroke="#1a1a1a" stroke-width="0.60" fill="none" opacity="1.0"/><path d="M181.20 265.60V259.33 M187.80 265.60V264.07 M188.35 265.60V264.20 M191.10 265.60V264.69 M196.05 265.60V265.10 M199.90 265.60V265.23 M210.90 265.60V265.41 M212.00 265.60V265.42 M213.10 265.60V265.42 M214.20 265.60V265.42" stroke="#4d4d4d" stroke-width="0.60" fill="none" opacity="1.0"/><path d="M181.75 265.60V260.60 M182.30 265.60V261.47 M183.40 265.60V262.47 M185.05 265.60V263.31 M186.70 265.60V263.78 M187.25 265.60V263.93 M188.90 265.60V264.34 M190.00 265.60V264.60 M191.65 265.60V264.74 M192.75 265.60V264.83 M194.40 265.60V264.97 M196.60 265.60V265.12 M197.70 265.60V265.16 M201.55 265.60V265.29 M204.30 265.60V265.38 M207.05 265.60V265.41 M208.15 265.60V265.41 M209.25 265.60V265.41" stroke="#000" stroke-width="0.60" fill="none" opacity="1.0"/><path d="M182.85 265.60V262.18 M184.50 265.60V263.04 M185.60 265.60V263.47 M190.55 265.60V264.65 M192.20 265.60V264.78 M193.85 265.60V264.92 M194.95 265.60V265.01 M195.50 265.60V265.06 M198.25 265.60V265.18 M201.00 265.60V265.27 M202.10 265.60V265.30 M203.20 265.60V265.34 M204.85 265.60V265.39 M205.40 265.60V265.40 M207.60 265.60V265.41 M208.70 265.60V265.41 M209.80 265.60V265.41 M211.45 265.60V265.42 M213.65 265.60V265.42" stroke="#111" stroke-width="0.60" fill="none" opacity="1.0"/><path d="M241.85 265.60V265.75 M243.50 265.60V265.82 M244.05 265.60V265.84 M245.70 265.60V265.91 M246.25 265.60V265.93 M247.35 265.60V265.97 M252.30 265.60V266.25 M254.50 265.60V266.37 M263.85 265.60V267.65 M266.05 265.60V268.73 M267.15 265.60V270.63" stroke="#1a1a1a" stroke-width="0.60" fill="none" opacity="1.0"/><path d="M242.40 265.60V265.78 M255.60 265.60V266.46 M258.90 265.60V266.79 M263.30 265.60V267.53" stroke="#333" stroke-width="0.60" fill="none" opacity="1.0"/><path d="M242.95 265.60V265.80 M247.90 265.60V266.00 M249.00 265.60V266.06 M249.55 265.60V266.09 M250.10 265.60V266.12 M250.65 265.60V266.15 M251.20 265.60V266.18 M252.85 265.60V266.28 M253.95 265.60V266.34 M256.70 265.60V266.57 M257.25 265.60V266.62 M257.80 265.60V266.68 M260.55 265.60V266.96 M261.65 265.60V267.15 M264.95 265.60V268.07" stroke="#4d4d4d" stroke-width="0.60" fill="none" opacity="1.0"/><path d="M244.60 265.60V265.86 M245.15 265.60V265.89 M248.45 265.60V266.03 M253.40 265.60V266.31 M255.05 265.60V266.41 M258.35 265.60V266.74 M259.45 265.60V266.85 M260.00 265.60V266.90 M262.20 265.60V267.27 M262.75 265.60V267.40 M264.40 265.60V267.78" stroke="#000" stroke-width="0.60" fill="none" opacity="1.0"/><path d="M246.80 265.60V265.95 M251.75 265.60V266.21 M256.15 265.60V266.52 M261.10 265.60V267.02 M265.50 265.60V268.40 M266.60 265.60V269.25 M267.70 265.60V267.57" stroke="#111" stroke-width="0.60" fill="none" opacity="1.0"/><path d="M200 264.8L240 265.6" stroke="#222" stroke-width="1.2" stroke-dasharray="3 0.8 1.5 0.6"/>
<line x1="176.00" y1="301.00" x2="271.50" y2="301.00" stroke="#c4c4c4" stroke-width="0.7"/>
<path d="M196.94 299.50v3.0 M186.85 299.50v3.0 M210.32 299.50v3.0 M190.63 299.50v3.0 M184.33 299.50v3.0 M210.79 299.50v3.0 M258.89 299.50v3.0 M247.47 299.50v3.0 M244.08 299.50v3.0 M195.82 299.50v3.0 M222.79 299.50v3.0 M200.24 299.50v3.0 M191.98 299.50v3.0 M187.06 299.50v3.0 M195.22 299.50v3.0 M259.83 299.50v3.0 M250.21 299.50v3.0 M248.06 299.50v3.0 M247.47 299.50v3.0 M193.58 299.50v3.0 M202.98 299.50v3.0 M231.07 299.50v3.0 M240.91 299.50v3.0 M252.71 299.50v3.0 M255.18 299.50v3.0 M185.70 299.50v3.0 M229.11 299.50v3.0 M235.24 299.50v3.0 M220.01 299.50v3.0 M192.37 299.50v3.0 M217.12 299.50v3.0 M185.88 299.50v3.0 M260.53 299.50v3.0 M253.76 299.50v3.0 M223.78 299.50v3.0 M202.18 299.50v3.0 M258.00 299.50v3.0 M226.03 299.50v3.0 M255.40 299.50v3.0 M252.06 299.50v3.0 M220.23 299.50v3.0 M211.87 299.50v3.0 M228.47 299.50v3.0 M213.36 299.50v3.0 M191.11 299.50v3.0 M202.59 299.50v3.0 M248.63 299.50v3.0 M182.83 299.50v3.0 M183.03 299.50v3.0 M231.01 299.50v3.0 M200.55 299.50v3.0 M222.60 299.50v3.0 M216.91 299.50v3.0 M205.76 299.50v3.0 M266.73 299.50v3.0 M193.74 299.50v3.0 M211.77 299.50v3.0 M194.30 299.50v3.0 M231.59 299.50v3.0 M200.21 299.50v3.0 M206.86 299.50v3.0 M242.34 299.50v3.0 M203.89 299.50v3.0 M224.77 299.50v3.0 M257.55 299.50v3.0 M186.69 299.50v3.0 M184.01 299.50v3.0 M196.37 299.50v3.0 M244.08 299.50v3.0 M230.00 299.50v3.0 M197.05 299.50v3.0 M204.76 299.50v3.0 M192.35 299.50v3.0 M215.83 299.50v3.0 M182.81 299.50v3.0 M237.64 299.50v3.0 M256.73 299.50v3.0 M262.51 299.50v3.0 M241.20 299.50v3.0 M263.02 299.50v3.0 M181.36 299.50v3.0 M201.25 299.50v3.0 M263.63 299.50v3.0 M245.05 299.50v3.0 M211.56 299.50v3.0 M261.38 299.50v3.0 M230.47 299.50v3.0 M249.15 299.50v3.0 M201.62 299.50v3.0 M193.42 299.50v3.0 M214.51 299.50v3.0 M189.25 299.50v3.0 M209.07 299.50v3.0 M263.21 299.50v3.0 M204.78 299.50v3.0 M180.90 299.50v3.0 M182.93 299.50v3.0 M191.74 299.50v3.0 M245.86 299.50v3.0 M207.45 299.50v3.0 M201.36 299.50v3.0 M186.42 299.50v3.0 M265.19 299.50v3.0 M212.74 299.50v3.0 M194.71 299.50v3.0 M183.86 299.50v3.0 M183.60 299.50v3.0 M191.67 299.50v3.0 M235.72 299.50v3.0 M190.23 299.50v3.0 M182.69 299.50v3.0 M218.64 299.50v3.0 M197.99 299.50v3.0 M266.76 299.50v3.0 M188.22 299.50v3.0 M222.11 299.50v3.0 M244.91 299.50v3.0 M211.47 299.50v3.0 M265.77 299.50v3.0 M217.49 299.50v3.0 M197.41 299.50v3.0 M211.58 299.50v3.0 M182.44 299.50v3.0 M212.50 299.50v3.0 M197.95 299.50v3.0 M256.08 299.50v3.0 M250.42 299.50v3.0 M219.35 299.50v3.0 M182.13 299.50v3.0 M198.42 299.50v3.0 M197.45 299.50v3.0 M194.72 299.50v3.0 M196.58 299.50v3.0 M254.17 299.50v3.0 M189.64 299.50v3.0 M183.34 299.50v3.0 M259.88 299.50v3.0 M225.39 299.50v3.0 M266.06 299.50v3.0 M210.91 299.50v3.0 M257.22 299.50v3.0 M233.58 299.50v3.0 M246.54 299.50v3.0 M242.13 299.50v3.0 M218.97 299.50v3.0 M186.13 299.50v3.0 M194.95 299.50v3.0 M254.57 299.50v3.0 M257.11 299.50v3.0 M259.54 299.50v3.0 M205.23 299.50v3.0 M233.85 299.50v3.0 M247.37 299.50v3.0 M232.51 299.50v3.0 M248.85 299.50v3.0 M222.00 299.50v3.0 M233.65 299.50v3.0 M236.57 299.50v3.0 M199.55 299.50v3.0 M259.37 299.50v3.0 M262.67 299.50v3.0 M184.86 299.50v3.0 M264.13 299.50v3.0 M263.21 299.50v3.0 M234.92 299.50v3.0 M182.92 299.50v3.0 M257.03 299.50v3.0 M188.61 299.50v3.0 M263.88 299.50v3.0 M234.81 299.50v3.0 M183.93 299.50v3.0 M191.56 299.50v3.0 M231.83 299.50v3.0 M225.75 299.50v3.0 M242.30 299.50v3.0 M259.83 299.50v3.0 M195.55 299.50v3.0 M180.62 299.50v3.0 M259.32 299.50v3.0 M181.09 299.50v3.0" stroke="#111" stroke-width="0.9" fill="none" opacity="0.8"/>
<line x1="192.20" y1="299.50" x2="192.20" y2="276.30" stroke="#e49a9a" stroke-width="0.8" stroke-dasharray="1.4 1.4"/>
<path d="M180.4 301.2 C180.6 293,181.5 286,183.7 281.3 C186 278.5,189 276.8,192.2 276.1 C195 275.9,200 278,208 283 C214 286.8,222 292.6,231 298 C236 300.5,240 301.6,245 302.6 C250 303.6,256 304.2,260 304.2 C263 304,265 302.5,266.3 301.3" fill="none" stroke="#2f3a80" stroke-width="1.15" stroke-linejoin="round" stroke-linecap="round"/>
<rect x="176.00" y="231.30" width="95.50" height="74.30" fill="none" stroke="#999" stroke-width="0.9"/>
<line x1="176.00" y1="242.50" x2="271.50" y2="242.50" stroke="#999" stroke-width="0.9"/>
<line x1="176.00" y1="275.00" x2="271.50" y2="275.00" stroke="#999" stroke-width="0.9"/>
<text font-size="8.21" letter-spacing="0.17" fill="#262626" stroke="#262626" stroke-width="0.09" transform="translate(177.80 240.10) scale(1 1.1)"><tspan>BCOR</tspan><tspan font-size="4.27" dy="-2.24">mut</tspan></text>
<text font-size="8.21" text-anchor="end" letter-spacing="0.17" fill="#262626" stroke="#262626" stroke-width="0.09" transform="translate(270.10 240.10) scale(1 1.1)"><tspan>BCOR</tspan><tspan font-size="4.27" dy="-2.24">WT</tspan></text>
<text font-size="7.45" text-anchor="end" letter-spacing="0.16" fill="#262626" stroke="#262626" stroke-width="0.09" transform="translate(173.80 252.15) scale(1 1.1)">4</text>
<line x1="174.60" y1="249.40" x2="176.00" y2="249.40" stroke="#8c8c8c" stroke-width="0.6"/>
<text font-size="7.45" text-anchor="end" letter-spacing="0.16" fill="#262626" stroke="#262626" stroke-width="0.09" transform="translate(173.80 268.75) scale(1 1.1)">0</text>
<line x1="174.60" y1="266.00" x2="176.00" y2="266.00" stroke="#8c8c8c" stroke-width="0.6"/>
<text font-size="7.45" text-anchor="end" letter-spacing="0.16" fill="#262626" stroke="#262626" stroke-width="0.09" transform="translate(173.80 281.25) scale(1 1.1)">0.4</text>
<line x1="174.60" y1="278.50" x2="176.00" y2="278.50" stroke="#8c8c8c" stroke-width="0.6"/>
<text font-size="7.45" text-anchor="end" letter-spacing="0.16" fill="#262626" stroke="#262626" stroke-width="0.09" transform="translate(173.80 303.75) scale(1 1.1)">0.0</text>
<line x1="174.60" y1="301.00" x2="176.00" y2="301.00" stroke="#8c8c8c" stroke-width="0.6"/>
<text font-size="7.45" text-anchor="middle" letter-spacing="0.16" fill="#262626" stroke="#262626" stroke-width="0.09" transform="translate(178.50 315.10) scale(1 1.1)">0</text>
<line x1="178.50" y1="305.60" x2="178.50" y2="307.00" stroke="#8c8c8c" stroke-width="0.6"/>
<text font-size="7.45" text-anchor="middle" letter-spacing="0.16" fill="#262626" stroke="#262626" stroke-width="0.09" transform="translate(207.30 315.10) scale(1 1.1)">5,000</text>
<line x1="207.30" y1="305.60" x2="207.30" y2="307.00" stroke="#8c8c8c" stroke-width="0.6"/>
<text font-size="7.45" text-anchor="middle" letter-spacing="0.16" fill="#262626" stroke="#262626" stroke-width="0.09" transform="translate(260.60 315.10) scale(1 1.1)">15,000</text>
<line x1="260.60" y1="305.60" x2="260.60" y2="307.00" stroke="#8c8c8c" stroke-width="0.6"/>
<text font-size="7.83" text-anchor="middle" letter-spacing="0.16" fill="#262626" stroke="#262626" stroke-width="0.09" transform="translate(148.40 259.30) rotate(-90) scale(1 1.1)">Ranked</text>
<text font-size="7.83" text-anchor="middle" letter-spacing="0.16" fill="#262626" stroke="#262626" stroke-width="0.09" transform="translate(156.80 259.30) rotate(-90) scale(1 1.1)">list metric</text>
<text font-size="7.83" text-anchor="middle" letter-spacing="0.16" fill="#262626" stroke="#262626" stroke-width="0.09" transform="translate(156.80 292.50) rotate(-90) scale(1 1.1)">ES</text>
<text font-size="8.31" text-anchor="middle" letter-spacing="0.17" fill="#262626" stroke="#262626" stroke-width="0.09" transform="translate(231.20 325.50) scale(1 1.1)">Position in ranked</text>
<text font-size="8.31" text-anchor="middle" letter-spacing="0.17" fill="#262626" stroke="#262626" stroke-width="0.09" transform="translate(230.10 334.20) scale(1 1.1)">gene list</text>
<text font-size="8.31" text-anchor="middle" letter-spacing="0.17" fill="#262626" stroke="#262626" stroke-width="0.09" transform="translate(226.90 225.60) scale(1 1.1)">Pathways in cancer</text>
<line x1="375.60" y1="15.60" x2="375.60" y2="126.20" stroke="#ebebeb" stroke-width="0.6"/>
<line x1="394.10" y1="15.60" x2="394.10" y2="126.20" stroke="#ebebeb" stroke-width="0.6"/>
<line x1="412.50" y1="15.60" x2="412.50" y2="126.20" stroke="#ebebeb" stroke-width="0.6"/>
<line x1="431.00" y1="15.60" x2="431.00" y2="126.20" stroke="#ebebeb" stroke-width="0.6"/>
<line x1="449.50" y1="15.60" x2="449.50" y2="126.20" stroke="#ebebeb" stroke-width="0.6"/>
<line x1="468.00" y1="15.60" x2="468.00" y2="126.20" stroke="#ebebeb" stroke-width="0.6"/>
<line x1="486.40" y1="15.60" x2="486.40" y2="126.20" stroke="#ebebeb" stroke-width="0.6"/>
<line x1="505.00" y1="15.60" x2="505.00" y2="126.20" stroke="#ebebeb" stroke-width="0.6"/>
<line x1="369.00" y1="20.50" x2="514.80" y2="20.50" stroke="#ebebeb" stroke-width="0.6"/>
<line x1="369.00" y1="37.20" x2="514.80" y2="37.20" stroke="#ebebeb" stroke-width="0.6"/>
<line x1="369.00" y1="53.80" x2="514.80" y2="53.80" stroke="#ebebeb" stroke-width="0.6"/>
<line x1="369.00" y1="70.50" x2="514.80" y2="70.50" stroke="#ebebeb" stroke-width="0.6"/>
<line x1="369.00" y1="87.30" x2="514.80" y2="87.30" stroke="#ebebeb" stroke-width="0.6"/>
<line x1="369.00" y1="103.90" x2="514.80" y2="103.90" stroke="#ebebeb" stroke-width="0.6"/>
<line x1="369.00" y1="120.60" x2="514.80" y2="120.60" stroke="#ebebeb" stroke-width="0.6"/>
<g fill="#c2c2c2"><circle cx="408.9" cy="112.9" r="1.0"/><circle cx="457.1" cy="109.8" r="1.0"/><circle cx="414.1" cy="111.5" r="1.0"/><circle cx="386.4" cy="118.1" r="1.0"/><circle cx="426.0" cy="105.8" r="1.0"/><circle cx="380.2" cy="120.5" r="1.0"/><circle cx="380.0" cy="119.1" r="1.0"/><circle cx="432.5" cy="116.0" r="1.0"/><circle cx="463.5" cy="108.3" r="1.0"/><circle cx="428.4" cy="108.1" r="1.0"/><circle cx="384.4" cy="120.9" r="1.0"/><circle cx="416.0" cy="117.8" r="1.0"/><circle cx="386.8" cy="119.5" r="1.0"/><circle cx="376.6" cy="121.0" r="1.0"/><circle cx="407.8" cy="109.6" r="1.0"/><circle cx="415.2" cy="110.6" r="1.0"/><circle cx="413.3" cy="110.7" r="1.0"/><circle cx="409.3" cy="116.1" r="1.0"/><circle cx="465.2" cy="109.2" r="1.0"/><circle cx="447.9" cy="106.1" r="1.0"/><circle cx="396.8" cy="118.2" r="1.0"/><circle cx="394.6" cy="119.7" r="1.0"/><circle cx="440.0" cy="110.2" r="1.0"/><circle cx="448.6" cy="110.2" r="1.0"/><circle cx="460.8" cy="107.8" r="1.0"/><circle cx="375.5" cy="121.5" r="1.0"/><circle cx="455.5" cy="109.6" r="1.0"/><circle cx="463.3" cy="110.8" r="1.0"/><circle cx="378.9" cy="120.0" r="1.0"/><circle cx="441.3" cy="112.0" r="1.0"/><circle cx="379.8" cy="120.5" r="1.0"/><circle cx="461.5" cy="108.6" r="1.0"/><circle cx="381.7" cy="120.3" r="1.0"/><circle cx="380.6" cy="121.1" r="1.0"/><circle cx="443.3" cy="113.1" r="1.0"/><circle cx="419.0" cy="112.5" r="1.0"/><circle cx="386.8" cy="116.6" r="1.0"/><circle cx="382.6" cy="118.6" r="1.0"/><circle cx="381.6" cy="119.8" r="1.0"/><circle cx="388.5" cy="119.1" r="1.0"/><circle cx="462.2" cy="108.5" r="1.0"/><circle cx="395.8" cy="112.4" r="1.0"/><circle cx="388.3" cy="118.4" r="1.0"/><circle cx="449.4" cy="107.2" r="1.0"/><circle cx="380.6" cy="118.2" r="1.0"/><circle cx="388.5" cy="119.2" r="1.0"/><circle cx="440.7" cy="111.2" r="1.0"/><circle cx="395.2" cy="119.7" r="1.0"/><circle cx="379.9" cy="119.7" r="1.0"/><circle cx="390.9" cy="116.4" r="1.0"/><circle cx="401.6" cy="115.4" r="1.0"/><circle cx="460.9" cy="110.1" r="1.0"/><circle cx="420.5" cy="106.1" r="1.0"/><circle cx="386.3" cy="120.1" r="1.0"/><circle cx="455.3" cy="106.3" r="1.0"/><circle cx="391.4" cy="119.2" r="1.0"/><circle cx="437.2" cy="102.0" r="1.0"/><circle cx="387.3" cy="115.1" r="1.0"/><circle cx="452.4" cy="108.0" r="1.0"/><circle cx="406.1" cy="118.3" r="1.0"/><circle cx="377.0" cy="120.2" r="1.0"/><circle cx="390.5" cy="115.7" r="1.0"/><circle cx="392.0" cy="114.3" r="1.0"/><circle cx="422.7" cy="114.0" r="1.0"/><circle cx="385.7" cy="117.0" r="1.0"/><circle cx="378.7" cy="120.9" r="1.0"/><circle cx="419.0" cy="106.7" r="1.0"/><circle cx="424.4" cy="113.8" r="1.0"/><circle cx="456.3" cy="112.0" r="1.0"/><circle cx="376.0" cy="121.3" r="1.0"/><circle cx="408.3" cy="118.5" r="1.0"/><circle cx="385.8" cy="119.0" r="1.0"/><circle cx="420.3" cy="116.5" r="1.0"/><circle cx="400.8" cy="111.0" r="1.0"/><circle cx="463.3" cy="109.7" r="1.0"/><circle cx="432.2" cy="107.9" r="1.0"/><circle cx="383.2" cy="120.9" r="1.0"/><circle cx="376.1" cy="120.8" r="1.0"/><circle cx="433.2" cy="101.6" r="1.0"/><circle cx="376.2" cy="121.0" r="1.0"/><circle cx="411.7" cy="110.2" r="1.0"/><circle cx="397.1" cy="110.9" r="1.0"/><circle cx="379.0" cy="120.1" r="1.0"/><circle cx="437.0" cy="102.6" r="1.0"/><circle cx="437.0" cy="105.8" r="1.0"/><circle cx="442.9" cy="102.7" r="1.0"/><circle cx="399.9" cy="113.4" r="1.0"/><circle cx="454.5" cy="105.5" r="1.0"/><circle cx="405.7" cy="110.8" r="1.0"/><circle cx="450.4" cy="108.1" r="1.0"/><circle cx="425.5" cy="112.2" r="1.0"/><circle cx="421.3" cy="109.7" r="1.0"/><circle cx="379.3" cy="119.8" r="1.0"/><circle cx="464.7" cy="109.3" r="1.0"/><circle cx="436.0" cy="110.7" r="1.0"/><circle cx="436.8" cy="107.7" r="1.0"/><circle cx="407.8" cy="109.7" r="1.0"/><circle cx="379.6" cy="119.4" r="1.0"/><circle cx="376.6" cy="120.9" r="1.0"/><circle cx="411.5" cy="116.4" r="1.0"/><circle cx="433.0" cy="109.2" r="1.0"/><circle cx="424.5" cy="104.1" r="1.0"/><circle cx="391.9" cy="120.3" r="1.0"/><circle cx="395.6" cy="114.4" r="1.0"/><circle cx="387.7" cy="119.8" r="1.0"/><circle cx="455.0" cy="107.7" r="1.0"/><circle cx="407.9" cy="109.0" r="1.0"/><circle cx="397.8" cy="114.1" r="1.0"/><circle cx="387.4" cy="118.3" r="1.0"/><circle cx="444.2" cy="102.9" r="1.0"/><circle cx="452.2" cy="110.3" r="1.0"/><circle cx="421.4" cy="113.9" r="1.0"/><circle cx="382.9" cy="119.1" r="1.0"/><circle cx="447.6" cy="104.2" r="1.0"/><circle cx="434.3" cy="101.8" r="1.0"/><circle cx="393.6" cy="119.1" r="1.0"/><circle cx="408.7" cy="116.2" r="1.0"/><circle cx="388.6" cy="118.2" r="1.0"/><circle cx="425.6" cy="110.5" r="1.0"/><circle cx="396.8" cy="112.6" r="1.0"/><circle cx="463.5" cy="110.6" r="1.0"/><circle cx="379.0" cy="121.3" r="1.0"/><circle cx="451.4" cy="113.7" r="1.0"/><circle cx="434.0" cy="108.0" r="1.0"/><circle cx="396.2" cy="113.2" r="1.0"/><circle cx="376.1" cy="121.4" r="1.0"/><circle cx="409.1" cy="118.8" r="1.0"/><circle cx="446.8" cy="112.1" r="1.0"/><circle cx="383.3" cy="120.9" r="1.0"/><circle cx="425.9" cy="111.2" r="1.0"/><circle cx="426.0" cy="108.0" r="1.0"/><circle cx="444.4" cy="102.3" r="1.0"/><circle cx="431.5" cy="113.9" r="1.0"/><circle cx="411.0" cy="117.0" r="1.0"/><circle cx="375.8" cy="121.2" r="1.0"/><circle cx="434.6" cy="113.9" r="1.0"/><circle cx="393.2" cy="117.8" r="1.0"/><circle cx="432.8" cy="108.9" r="1.0"/><circle cx="424.5" cy="106.7" r="1.0"/><circle cx="403.6" cy="111.3" r="1.0"/><circle cx="455.1" cy="113.0" r="1.0"/><circle cx="458.0" cy="107.9" r="1.0"/><circle cx="382.5" cy="119.4" r="1.0"/><circle cx="425.6" cy="104.0" r="1.0"/><circle cx="402.1" cy="114.1" r="1.0"/><circle cx="452.1" cy="105.8" r="1.0"/><circle cx="459.3" cy="110.1" r="1.0"/><circle cx="428.2" cy="114.3" r="1.0"/><circle cx="435.4" cy="104.0" r="1.0"/><circle cx="427.2" cy="106.7" r="1.0"/><circle cx="388.5" cy="114.9" r="1.0"/><circle cx="463.3" cy="108.2" r="1.0"/><circle cx="416.9" cy="108.2" r="1.0"/><circle cx="397.2" cy="111.8" r="1.0"/><circle cx="449.6" cy="110.7" r="1.0"/><circle cx="379.5" cy="120.3" r="1.0"/><circle cx="418.2" cy="108.2" r="1.0"/><circle cx="412.2" cy="118.5" r="1.0"/><circle cx="444.6" cy="114.3" r="1.0"/><circle cx="443.6" cy="113.1" r="1.0"/><circle cx="398.4" cy="112.7" r="1.0"/><circle cx="383.2" cy="120.5" r="1.0"/><circle cx="414.9" cy="109.6" r="1.0"/><circle cx="447.9" cy="106.4" r="1.0"/><circle cx="459.4" cy="109.9" r="1.0"/><circle cx="459.8" cy="112.6" r="1.0"/><circle cx="389.2" cy="117.3" r="1.0"/><circle cx="394.7" cy="114.2" r="1.0"/><circle cx="426.9" cy="109.8" r="1.0"/><circle cx="448.3" cy="108.1" r="1.0"/><circle cx="396.5" cy="117.0" r="1.0"/><circle cx="448.4" cy="103.7" r="1.0"/><circle cx="388.2" cy="115.4" r="1.0"/><circle cx="462.0" cy="110.0" r="1.0"/><circle cx="420.4" cy="115.6" r="1.0"/><circle cx="416.8" cy="112.1" r="1.0"/><circle cx="423.5" cy="117.3" r="1.0"/><circle cx="462.1" cy="110.1" r="1.0"/><circle cx="404.2" cy="111.0" r="1.0"/><circle cx="419.4" cy="111.8" r="1.0"/><circle cx="432.2" cy="115.7" r="1.0"/><circle cx="417.0" cy="113.3" r="1.0"/><circle cx="460.7" cy="107.3" r="1.0"/><circle cx="393.0" cy="116.8" r="1.0"/><circle cx="382.3" cy="119.5" r="1.0"/><circle cx="445.3" cy="103.2" r="1.0"/><circle cx="411.1" cy="115.4" r="1.0"/><circle cx="386.9" cy="117.3" r="1.0"/><circle cx="457.2" cy="112.5" r="1.0"/><circle cx="441.4" cy="115.1" r="1.0"/><circle cx="387.1" cy="119.6" r="1.0"/><circle cx="431.8" cy="112.1" r="1.0"/><circle cx="400.2" cy="114.0" r="1.0"/><circle cx="380.9" cy="118.9" r="1.0"/><circle cx="382.0" cy="119.3" r="1.0"/><circle cx="391.5" cy="119.2" r="1.0"/><circle cx="416.2" cy="113.1" r="1.0"/><circle cx="402.0" cy="115.8" r="1.0"/><circle cx="416.1" cy="116.6" r="1.0"/><circle cx="387.9" cy="117.0" r="1.0"/><circle cx="426.9" cy="109.7" r="1.0"/><circle cx="449.1" cy="107.5" r="1.0"/><circle cx="449.7" cy="112.0" r="1.0"/><circle cx="437.4" cy="104.1" r="1.0"/><circle cx="454.7" cy="111.0" r="1.0"/><circle cx="396.7" cy="111.8" r="1.0"/><circle cx="388.9" cy="114.1" r="1.0"/><circle cx="453.0" cy="112.8" r="1.0"/><circle cx="390.6" cy="115.5" r="1.0"/><circle cx="392.2" cy="119.8" r="1.0"/><circle cx="447.0" cy="109.8" r="1.0"/><circle cx="442.5" cy="113.8" r="1.0"/><circle cx="404.4" cy="112.3" r="1.0"/><circle cx="376.1" cy="121.4" r="1.0"/><circle cx="431.3" cy="102.7" r="1.0"/><circle cx="462.0" cy="112.1" r="1.0"/><circle cx="413.9" cy="109.3" r="1.0"/><circle cx="413.6" cy="110.3" r="1.0"/><circle cx="386.7" cy="120.4" r="1.0"/><circle cx="381.0" cy="121.1" r="1.0"/><circle cx="418.3" cy="111.7" r="1.0"/><circle cx="420.0" cy="116.3" r="1.0"/><circle cx="386.4" cy="119.8" r="1.0"/><circle cx="447.9" cy="102.4" r="1.0"/><circle cx="457.4" cy="112.7" r="1.0"/><circle cx="378.3" cy="119.6" r="1.0"/><circle cx="409.8" cy="110.1" r="1.0"/><circle cx="397.7" cy="116.0" r="1.0"/><circle cx="414.8" cy="113.5" r="1.0"/><circle cx="423.1" cy="117.5" r="1.0"/><circle cx="433.2" cy="103.6" r="1.0"/><circle cx="386.1" cy="118.5" r="1.0"/><circle cx="437.2" cy="110.4" r="1.0"/><circle cx="387.2" cy="119.9" r="1.0"/><circle cx="414.5" cy="118.4" r="1.0"/><circle cx="453.6" cy="106.0" r="1.0"/><circle cx="433.6" cy="103.3" r="1.0"/><circle cx="426.0" cy="111.8" r="1.0"/><circle cx="423.0" cy="110.9" r="1.0"/><circle cx="463.6" cy="109.1" r="1.0"/><circle cx="392.1" cy="113.5" r="1.0"/><circle cx="437.7" cy="104.6" r="1.0"/><circle cx="445.2" cy="110.0" r="1.0"/><circle cx="454.0" cy="105.3" r="1.0"/><circle cx="432.6" cy="104.9" r="1.0"/><circle cx="439.9" cy="110.1" r="1.0"/><circle cx="435.5" cy="115.3" r="1.0"/><circle cx="399.0" cy="115.7" r="1.0"/><circle cx="375.8" cy="121.3" r="1.0"/><circle cx="426.9" cy="108.3" r="1.0"/><circle cx="390.0" cy="114.1" r="1.0"/><circle cx="429.7" cy="112.2" r="1.0"/><circle cx="429.0" cy="108.7" r="1.0"/><circle cx="416.5" cy="113.7" r="1.0"/><circle cx="465.5" cy="110.3" r="1.0"/><circle cx="433.3" cy="105.0" r="1.0"/><circle cx="463.3" cy="112.3" r="1.0"/><circle cx="424.6" cy="107.0" r="1.0"/><circle cx="391.9" cy="117.6" r="1.0"/><circle cx="377.7" cy="121.1" r="1.0"/><circle cx="402.0" cy="118.8" r="1.0"/><circle cx="391.5" cy="113.8" r="1.0"/><circle cx="418.1" cy="111.8" r="1.0"/><circle cx="461.8" cy="109.7" r="1.0"/><circle cx="464.9" cy="110.2" r="1.0"/><circle cx="444.6" cy="114.1" r="1.0"/><circle cx="422.8" cy="107.1" r="1.0"/><circle cx="377.4" cy="120.1" r="1.0"/><circle cx="384.6" cy="118.7" r="1.0"/><circle cx="385.3" cy="118.4" r="1.0"/><circle cx="424.1" cy="116.8" r="1.0"/><circle cx="459.4" cy="110.4" r="1.0"/><circle cx="415.9" cy="111.0" r="1.0"/><circle cx="401.1" cy="117.2" r="1.0"/><circle cx="428.5" cy="108.9" r="1.0"/><circle cx="394.1" cy="114.5" r="1.0"/><circle cx="395.2" cy="120.1" r="1.0"/><circle cx="391.0" cy="120.2" r="1.0"/><circle cx="384.4" cy="117.3" r="1.0"/><circle cx="403.2" cy="110.2" r="1.0"/><circle cx="438.1" cy="115.2" r="1.0"/><circle cx="464.2" cy="108.8" r="1.0"/><circle cx="378.9" cy="119.3" r="1.0"/><circle cx="406.8" cy="114.2" r="1.0"/><circle cx="462.5" cy="111.5" r="1.0"/><circle cx="415.6" cy="106.4" r="1.0"/><circle cx="435.5" cy="109.5" r="1.0"/><circle cx="463.1" cy="108.8" r="1.0"/><circle cx="423.4" cy="116.2" r="1.0"/><circle cx="425.4" cy="111.1" r="1.0"/><circle cx="387.8" cy="120.4" r="1.0"/><circle cx="416.0" cy="117.1" r="1.0"/><circle cx="408.0" cy="111.7" r="1.0"/><circle cx="409.2" cy="116.3" r="1.0"/><circle cx="421.3" cy="112.5" r="1.0"/><circle cx="441.3" cy="108.3" r="1.0"/><circle cx="465.2" cy="109.3" r="1.0"/><circle cx="436.7" cy="112.8" r="1.0"/><circle cx="381.5" cy="118.1" r="1.0"/><circle cx="441.9" cy="106.9" r="1.0"/><circle cx="400.5" cy="117.4" r="1.0"/><circle cx="431.6" cy="108.3" r="1.0"/><circle cx="422.2" cy="109.2" r="1.0"/><circle cx="438.7" cy="113.3" r="1.0"/><circle cx="391.3" cy="113.3" r="1.0"/><circle cx="456.1" cy="106.0" r="1.0"/><circle cx="377.1" cy="121.4" r="1.0"/><circle cx="393.1" cy="117.2" r="1.0"/><circle cx="425.3" cy="116.1" r="1.0"/><circle cx="417.3" cy="117.5" r="1.0"/><circle cx="379.7" cy="119.6" r="1.0"/><circle cx="418.2" cy="110.1" r="1.0"/><circle cx="401.8" cy="115.1" r="1.0"/><circle cx="388.3" cy="118.7" r="1.0"/><circle cx="437.8" cy="103.6" r="1.0"/><circle cx="379.0" cy="121.1" r="1.0"/><circle cx="444.6" cy="107.1" r="1.0"/><circle cx="440.3" cy="112.8" r="1.0"/><circle cx="406.3" cy="116.7" r="1.0"/><circle cx="444.6" cy="110.5" r="1.0"/><circle cx="428.4" cy="102.0" r="1.0"/><circle cx="397.6" cy="115.2" r="1.0"/><circle cx="437.9" cy="102.3" r="1.0"/><circle cx="406.6" cy="115.5" r="1.0"/><circle cx="380.4" cy="118.7" r="1.0"/><circle cx="379.2" cy="121.1" r="1.0"/><circle cx="419.5" cy="111.9" r="1.0"/><circle cx="431.6" cy="112.5" r="1.0"/><circle cx="441.0" cy="114.5" r="1.0"/><circle cx="388.5" cy="116.6" r="1.0"/><circle cx="379.4" cy="120.6" r="1.0"/><circle cx="435.7" cy="106.0" r="1.0"/><circle cx="394.1" cy="119.3" r="1.0"/><circle cx="400.4" cy="112.8" r="1.0"/><circle cx="401.2" cy="118.7" r="1.0"/><circle cx="434.1" cy="108.0" r="1.0"/><circle cx="456.4" cy="105.5" r="1.0"/><circle cx="455.9" cy="110.0" r="1.0"/><circle cx="443.9" cy="111.4" r="1.0"/><circle cx="397.0" cy="116.7" r="1.0"/><circle cx="458.2" cy="106.6" r="1.0"/><circle cx="391.3" cy="118.0" r="1.0"/><circle cx="401.1" cy="116.4" r="1.0"/><circle cx="403.7" cy="115.7" r="1.0"/><circle cx="387.2" cy="117.6" r="1.0"/><circle cx="443.3" cy="108.2" r="1.0"/><circle cx="447.5" cy="108.0" r="1.0"/><circle cx="385.8" cy="116.8" r="1.0"/><circle cx="452.3" cy="111.4" r="1.0"/><circle cx="376.3" cy="121.1" r="1.0"/><circle cx="417.6" cy="111.1" r="1.0"/><circle cx="461.7" cy="109.3" r="1.0"/><circle cx="444.1" cy="114.3" r="1.0"/><circle cx="417.8" cy="108.0" r="1.0"/><circle cx="379.6" cy="121.1" r="1.0"/><circle cx="437.0" cy="102.6" r="1.0"/><circle cx="379.6" cy="119.7" r="1.0"/><circle cx="383.5" cy="117.8" r="1.0"/><circle cx="427.9" cy="113.8" r="1.0"/><circle cx="389.1" cy="115.7" r="1.0"/><circle cx="415.4" cy="108.9" r="1.0"/><circle cx="403.6" cy="116.3" r="1.0"/><circle cx="461.9" cy="109.2" r="1.0"/><circle cx="412.7" cy="112.4" r="1.0"/><circle cx="435.3" cy="105.8" r="1.0"/><circle cx="456.0" cy="110.2" r="1.0"/><circle cx="446.4" cy="106.6" r="1.0"/><circle cx="449.3" cy="105.1" r="1.0"/><circle cx="447.2" cy="103.6" r="1.0"/><circle cx="460.8" cy="109.2" r="1.0"/><circle cx="415.6" cy="109.6" r="1.0"/><circle cx="443.8" cy="109.8" r="1.0"/><circle cx="406.0" cy="117.9" r="1.0"/><circle cx="437.4" cy="101.1" r="1.0"/><circle cx="402.0" cy="118.2" r="1.0"/><circle cx="387.9" cy="118.3" r="1.0"/><circle cx="394.8" cy="111.9" r="1.0"/><circle cx="378.1" cy="120.9" r="1.0"/><circle cx="381.5" cy="119.0" r="1.0"/><circle cx="441.0" cy="113.2" r="1.0"/><circle cx="378.3" cy="120.5" r="1.0"/><circle cx="421.5" cy="105.2" r="1.0"/><circle cx="376.9" cy="121.4" r="1.0"/><circle cx="386.4" cy="119.7" r="1.0"/><circle cx="390.3" cy="115.7" r="1.0"/><circle cx="422.5" cy="114.9" r="1.0"/><circle cx="386.4" cy="119.4" r="1.0"/><circle cx="385.5" cy="116.9" r="1.0"/><circle cx="396.5" cy="115.4" r="1.0"/><circle cx="445.4" cy="109.0" r="1.0"/><circle cx="392.2" cy="113.7" r="1.0"/><circle cx="456.0" cy="110.8" r="1.0"/><circle cx="417.9" cy="105.5" r="1.0"/><circle cx="411.7" cy="116.4" r="1.0"/><circle cx="377.6" cy="119.9" r="1.0"/><circle cx="443.7" cy="110.3" r="1.0"/><circle cx="416.0" cy="112.1" r="1.0"/><circle cx="393.4" cy="112.3" r="1.0"/><circle cx="428.8" cy="113.8" r="1.0"/><circle cx="375.8" cy="121.2" r="1.0"/><circle cx="401.6" cy="111.8" r="1.0"/><circle cx="434.5" cy="107.4" r="1.0"/><circle cx="384.4" cy="120.3" r="1.0"/><circle cx="397.3" cy="117.9" r="1.0"/><circle cx="451.0" cy="108.8" r="1.0"/><circle cx="426.7" cy="102.4" r="1.0"/><circle cx="392.7" cy="116.4" r="1.0"/><circle cx="383.9" cy="117.4" r="1.0"/><circle cx="375.5" cy="121.1" r="1.0"/><circle cx="448.5" cy="104.7" r="1.0"/><circle cx="379.5" cy="120.7" r="1.0"/><circle cx="434.8" cy="115.0" r="1.0"/><circle cx="411.5" cy="113.5" r="1.0"/><circle cx="460.5" cy="109.5" r="1.0"/><circle cx="449.7" cy="111.2" r="1.0"/><circle cx="442.5" cy="109.9" r="1.0"/><circle cx="456.2" cy="112.9" r="1.0"/><circle cx="446.4" cy="112.4" r="1.0"/><circle cx="417.5" cy="111.7" r="1.0"/><circle cx="384.4" cy="116.9" r="1.0"/><circle cx="396.4" cy="117.6" r="1.0"/><circle cx="379.1" cy="120.7" r="1.0"/><circle cx="410.3" cy="110.7" r="1.0"/><circle cx="400.6" cy="113.2" r="1.0"/><circle cx="380.9" cy="120.0" r="1.0"/><circle cx="409.8" cy="107.6" r="1.0"/><circle cx="446.8" cy="106.8" r="1.0"/><circle cx="375.9" cy="121.3" r="1.0"/><circle cx="434.2" cy="113.1" r="1.0"/><circle cx="419.5" cy="112.3" r="1.0"/><circle cx="375.8" cy="120.9" r="1.0"/><circle cx="443.5" cy="112.7" r="1.0"/><circle cx="424.6" cy="113.7" r="1.0"/><circle cx="402.0" cy="114.4" r="1.0"/><circle cx="395.3" cy="117.5" r="1.0"/><circle cx="403.4" cy="112.7" r="1.0"/><circle cx="391.9" cy="119.1" r="1.0"/><circle cx="436.4" cy="111.5" r="1.0"/><circle cx="459.4" cy="109.4" r="1.0"/><circle cx="435.6" cy="111.6" r="1.0"/><circle cx="446.5" cy="113.8" r="1.0"/><circle cx="383.3" cy="120.7" r="1.0"/><circle cx="430.8" cy="106.1" r="1.0"/><circle cx="386.0" cy="118.8" r="1.0"/><circle cx="447.5" cy="107.6" r="1.0"/><circle cx="379.9" cy="120.7" r="1.0"/><circle cx="384.4" cy="120.4" r="1.0"/><circle cx="404.7" cy="118.8" r="1.0"/><circle cx="456.7" cy="110.1" r="1.0"/><circle cx="414.4" cy="110.7" r="1.0"/><circle cx="440.1" cy="103.8" r="1.0"/><circle cx="402.9" cy="116.4" r="1.0"/><circle cx="405.2" cy="119.2" r="1.0"/><circle cx="404.2" cy="112.2" r="1.0"/><circle cx="463.5" cy="109.1" r="1.0"/><circle cx="429.1" cy="108.1" r="1.0"/><circle cx="376.1" cy="121.3" r="1.0"/><circle cx="399.1" cy="113.9" r="1.0"/><circle cx="381.0" cy="120.1" r="1.0"/><circle cx="414.2" cy="108.8" r="1.0"/><circle cx="446.3" cy="107.3" r="1.0"/><circle cx="384.5" cy="117.2" r="1.0"/><circle cx="454.7" cy="108.8" r="1.0"/><circle cx="400.0" cy="115.2" r="1.0"/><circle cx="383.3" cy="118.0" r="1.0"/><circle cx="464.0" cy="110.4" r="1.0"/><circle cx="434.7" cy="103.7" r="1.0"/><circle cx="387.3" cy="115.1" r="1.0"/><circle cx="425.7" cy="114.8" r="1.0"/><circle cx="379.5" cy="120.7" r="1.0"/><circle cx="420.7" cy="108.6" r="1.0"/><circle cx="397.9" cy="111.4" r="1.0"/><circle cx="400.7" cy="115.5" r="1.0"/><circle cx="382.1" cy="117.4" r="1.0"/><circle cx="382.9" cy="117.3" r="1.0"/><circle cx="417.5" cy="111.2" r="1.0"/><circle cx="419.1" cy="114.9" r="1.0"/><circle cx="455.4" cy="104.6" r="1.0"/><circle cx="445.5" cy="107.4" r="1.0"/><circle cx="382.0" cy="118.1" r="1.0"/><circle cx="394.5" cy="112.7" r="1.0"/><circle cx="390.7" cy="116.6" r="1.0"/><circle cx="446.9" cy="112.7" r="1.0"/><circle cx="417.9" cy="117.4" r="1.0"/><circle cx="376.7" cy="121.3" r="1.0"/><circle cx="464.0" cy="108.7" r="1.0"/><circle cx="428.9" cy="112.8" r="1.0"/><circle cx="430.2" cy="105.8" r="1.0"/><circle cx="402.5" cy="113.8" r="1.0"/><circle cx="444.0" cy="114.9" r="1.0"/><circle cx="387.5" cy="118.1" r="1.0"/><circle cx="383.4" cy="119.4" r="1.0"/><circle cx="420.0" cy="116.0" r="1.0"/><circle cx="415.2" cy="115.5" r="1.0"/><circle cx="419.9" cy="113.9" r="1.0"/><circle cx="427.2" cy="116.7" r="1.0"/><circle cx="430.2" cy="114.9" r="1.0"/><circle cx="460.9" cy="109.4" r="1.0"/><circle cx="410.5" cy="114.4" r="1.0"/><circle cx="425.4" cy="107.5" r="1.0"/><circle cx="439.2" cy="104.9" r="1.0"/><circle cx="412.0" cy="106.6" r="1.0"/><circle cx="447.7" cy="104.2" r="1.0"/><circle cx="404.9" cy="115.0" r="1.0"/><circle cx="419.7" cy="105.8" r="1.0"/><circle cx="415.8" cy="112.0" r="1.0"/><circle cx="407.0" cy="109.1" r="1.0"/><circle cx="397.2" cy="119.6" r="1.0"/><circle cx="435.8" cy="102.6" r="1.0"/><circle cx="436.4" cy="107.5" r="1.0"/><circle cx="438.5" cy="111.7" r="1.0"/><circle cx="422.4" cy="116.9" r="1.0"/><circle cx="382.2" cy="119.5" r="1.0"/><circle cx="413.6" cy="114.1" r="1.0"/><circle cx="377.7" cy="120.3" r="1.0"/><circle cx="415.8" cy="115.7" r="1.0"/><circle cx="396.0" cy="116.9" r="1.0"/><circle cx="390.3" cy="120.1" r="1.0"/><circle cx="455.6" cy="104.9" r="1.0"/><circle cx="429.6" cy="103.8" r="1.0"/><circle cx="406.1" cy="110.5" r="1.0"/><circle cx="389.2" cy="115.8" r="1.0"/><circle cx="419.8" cy="105.8" r="1.0"/><circle cx="380.5" cy="118.9" r="1.0"/><circle cx="382.1" cy="119.2" r="1.0"/><circle cx="460.0" cy="113.0" r="1.0"/><circle cx="390.9" cy="118.5" r="1.0"/><circle cx="397.6" cy="119.5" r="1.0"/><circle cx="453.9" cy="105.9" r="1.0"/><circle cx="403.9" cy="116.0" r="1.0"/><circle cx="421.6" cy="117.3" r="1.0"/><circle cx="376.7" cy="120.5" r="1.0"/><circle cx="396.1" cy="116.0" r="1.0"/><circle cx="458.1" cy="105.9" r="1.0"/><circle cx="410.8" cy="116.7" r="1.0"/><circle cx="395.1" cy="112.3" r="1.0"/><circle cx="454.0" cy="112.1" r="1.0"/><circle cx="447.7" cy="110.6" r="1.0"/><circle cx="410.8" cy="117.1" r="1.0"/><circle cx="452.2" cy="103.5" r="1.0"/><circle cx="387.7" cy="117.0" r="1.0"/><circle cx="386.9" cy="115.7" r="1.0"/><circle cx="377.6" cy="121.3" r="1.0"/><circle cx="435.8" cy="111.8" r="1.0"/><circle cx="454.4" cy="105.5" r="1.0"/><circle cx="434.5" cy="114.5" r="1.0"/><circle cx="432.7" cy="102.1" r="1.0"/><circle cx="408.2" cy="118.4" r="1.0"/><circle cx="389.3" cy="118.8" r="1.0"/><circle cx="434.2" cy="113.7" r="1.0"/><circle cx="386.1" cy="119.7" r="1.0"/><circle cx="429.5" cy="105.1" r="1.0"/><circle cx="401.7" cy="113.2" r="1.0"/><circle cx="452.7" cy="108.2" r="1.0"/><circle cx="389.8" cy="118.7" r="1.0"/><circle cx="457.3" cy="108.2" r="1.0"/><circle cx="393.6" cy="115.3" r="1.0"/><circle cx="379.9" cy="118.6" r="1.0"/><circle cx="407.8" cy="113.4" r="1.0"/><circle cx="416.3" cy="117.9" r="1.0"/><circle cx="423.0" cy="114.0" r="1.0"/><circle cx="391.5" cy="114.6" r="1.0"/><circle cx="379.8" cy="120.6" r="1.0"/><circle cx="438.9" cy="112.5" r="1.0"/><circle cx="393.8" cy="116.0" r="1.0"/><circle cx="386.5" cy="115.7" r="1.0"/><circle cx="464.1" cy="112.1" r="1.0"/><circle cx="409.7" cy="110.3" r="1.0"/><circle cx="402.8" cy="109.9" r="1.0"/><circle cx="413.3" cy="116.7" r="1.0"/><circle cx="418.7" cy="109.8" r="1.0"/><circle cx="400.6" cy="113.5" r="1.0"/><circle cx="441.8" cy="108.5" r="1.0"/><circle cx="413.9" cy="108.1" r="1.0"/><circle cx="431.5" cy="109.0" r="1.0"/><circle cx="460.1" cy="112.0" r="1.0"/><circle cx="441.4" cy="113.4" r="1.0"/><circle cx="423.8" cy="114.6" r="1.0"/><circle cx="407.8" cy="110.5" r="1.0"/><circle cx="442.2" cy="104.5" r="1.0"/><circle cx="390.3" cy="117.3" r="1.0"/><circle cx="389.2" cy="117.0" r="1.0"/><circle cx="413.2" cy="118.3" r="1.0"/><circle cx="422.7" cy="107.8" r="1.0"/><circle cx="420.3" cy="106.1" r="1.0"/><circle cx="386.1" cy="120.1" r="1.0"/><circle cx="376.1" cy="121.1" r="1.0"/><circle cx="407.3" cy="114.5" r="1.0"/><circle cx="392.4" cy="114.3" r="1.0"/><circle cx="378.9" cy="119.3" r="1.0"/><circle cx="420.0" cy="111.0" r="1.0"/><circle cx="442.7" cy="112.3" r="1.0"/><circle cx="383.6" cy="119.7" r="1.0"/><circle cx="377.2" cy="121.1" r="1.0"/><circle cx="425.1" cy="110.1" r="1.0"/><circle cx="392.6" cy="116.0" r="1.0"/><circle cx="379.8" cy="119.1" r="1.0"/><circle cx="385.4" cy="119.7" r="1.0"/><circle cx="384.6" cy="117.6" r="1.0"/><circle cx="446.9" cy="105.0" r="1.0"/><circle cx="378.2" cy="120.7" r="1.0"/><circle cx="401.0" cy="117.9" r="1.0"/><circle cx="462.2" cy="112.4" r="1.0"/><circle cx="412.4" cy="109.6" r="1.0"/><circle cx="463.9" cy="111.8" r="1.0"/><circle cx="409.2" cy="110.5" r="1.0"/><circle cx="377.1" cy="121.2" r="1.0"/><circle cx="453.3" cy="112.7" r="1.0"/><circle cx="403.5" cy="116.7" r="1.0"/><circle cx="406.3" cy="118.6" r="1.0"/><circle cx="376.8" cy="120.3" r="1.0"/><circle cx="439.7" cy="105.2" r="1.0"/><circle cx="389.8" cy="119.0" r="1.0"/><circle cx="418.3" cy="115.3" r="1.0"/><circle cx="409.7" cy="108.0" r="1.0"/><circle cx="400.9" cy="116.7" r="1.0"/><circle cx="463.4" cy="109.9" r="1.0"/><circle cx="377.1" cy="121.0" r="1.0"/><circle cx="428.0" cy="116.3" r="1.0"/><circle cx="399.1" cy="113.5" r="1.0"/><circle cx="450.5" cy="107.9" r="1.0"/><circle cx="452.9" cy="109.5" r="1.0"/><circle cx="403.5" cy="110.7" r="1.0"/><circle cx="402.5" cy="111.7" r="1.0"/><circle cx="388.7" cy="118.6" r="1.0"/><circle cx="386.3" cy="117.9" r="1.0"/><circle cx="384.9" cy="120.0" r="1.0"/><circle cx="388.6" cy="117.8" r="1.0"/><circle cx="396.2" cy="116.4" r="1.0"/><circle cx="464.7" cy="110.0" r="1.0"/><circle cx="450.3" cy="112.2" r="1.0"/><circle cx="402.6" cy="119.0" r="1.0"/><circle cx="432.2" cy="111.4" r="1.0"/><circle cx="393.4" cy="120.2" r="1.0"/><circle cx="386.2" cy="119.5" r="1.0"/><circle cx="403.5" cy="109.8" r="1.0"/><circle cx="434.7" cy="112.6" r="1.0"/><circle cx="400.7" cy="118.5" r="1.0"/><circle cx="458.4" cy="110.8" r="1.0"/><circle cx="440.0" cy="105.3" r="1.0"/><circle cx="455.2" cy="113.5" r="1.0"/><circle cx="397.3" cy="116.8" r="1.0"/><circle cx="379.5" cy="119.1" r="1.0"/><circle cx="397.6" cy="113.1" r="1.0"/><circle cx="415.2" cy="117.9" r="1.0"/><circle cx="403.6" cy="117.3" r="1.0"/><circle cx="377.2" cy="121.3" r="1.0"/><circle cx="422.6" cy="117.4" r="1.0"/><circle cx="396.5" cy="116.6" r="1.0"/><circle cx="417.5" cy="116.7" r="1.0"/><circle cx="433.8" cy="112.8" r="1.0"/><circle cx="435.8" cy="106.4" r="1.0"/><circle cx="383.7" cy="120.2" r="1.0"/><circle cx="393.9" cy="114.6" r="1.0"/><circle cx="404.6" cy="115.6" r="1.0"/><circle cx="450.7" cy="112.0" r="1.0"/><circle cx="394.8" cy="117.5" r="1.0"/><circle cx="388.7" cy="120.4" r="1.0"/><circle cx="376.4" cy="120.9" r="1.0"/><circle cx="419.7" cy="107.2" r="1.0"/><circle cx="462.8" cy="111.2" r="1.0"/><circle cx="430.1" cy="102.8" r="1.0"/><circle cx="388.8" cy="116.3" r="1.0"/><circle cx="429.7" cy="102.3" r="1.0"/><circle cx="450.9" cy="111.9" r="1.0"/><circle cx="426.3" cy="116.2" r="1.0"/><circle cx="406.6" cy="115.2" r="1.0"/><circle cx="378.2" cy="120.7" r="1.0"/><circle cx="397.9" cy="115.7" r="1.0"/><circle cx="393.8" cy="119.2" r="1.0"/><circle cx="404.3" cy="114.7" r="1.0"/><circle cx="385.1" cy="117.5" r="1.0"/><circle cx="390.6" cy="120.0" r="1.0"/><circle cx="399.0" cy="116.2" r="1.0"/><circle cx="384.0" cy="118.4" r="1.0"/><circle cx="433.3" cy="108.3" r="1.0"/><circle cx="433.1" cy="116.1" r="1.0"/><circle cx="403.4" cy="116.0" r="1.0"/><circle cx="378.3" cy="120.6" r="1.0"/><circle cx="377.9" cy="120.6" r="1.0"/><circle cx="428.2" cy="102.8" r="1.0"/><circle cx="404.8" cy="113.9" r="1.0"/><circle cx="377.6" cy="120.3" r="1.0"/><circle cx="455.8" cy="103.5" r="1.0"/><circle cx="399.1" cy="107.1" r="1.0"/><circle cx="392.2" cy="113.2" r="1.0"/><circle cx="430.9" cy="87.3" r="1.0"/><circle cx="408.1" cy="105.8" r="1.0"/><circle cx="460.3" cy="103.2" r="1.0"/><circle cx="432.0" cy="97.3" r="1.0"/><circle cx="412.5" cy="108.5" r="1.0"/><circle cx="400.4" cy="103.4" r="1.0"/><circle cx="454.7" cy="106.4" r="1.0"/><circle cx="457.4" cy="112.7" r="1.0"/><circle cx="387.7" cy="114.5" r="1.0"/><circle cx="403.3" cy="111.9" r="1.0"/><circle cx="463.4" cy="111.1" r="1.0"/><circle cx="392.8" cy="116.7" r="1.0"/><circle cx="436.7" cy="108.9" r="1.0"/><circle cx="375.6" cy="120.9" r="1.0"/><circle cx="411.0" cy="113.1" r="1.0"/><circle cx="419.9" cy="100.1" r="1.0"/><circle cx="424.8" cy="99.1" r="1.0"/><circle cx="426.0" cy="92.7" r="1.0"/><circle cx="462.7" cy="109.3" r="1.0"/><circle cx="406.7" cy="99.3" r="1.0"/><circle cx="403.7" cy="104.3" r="1.0"/><circle cx="438.1" cy="95.5" r="1.0"/><circle cx="462.3" cy="104.1" r="1.0"/><circle cx="389.9" cy="112.0" r="1.0"/><circle cx="419.7" cy="102.6" r="1.0"/><circle cx="408.8" cy="112.4" r="1.0"/><circle cx="442.9" cy="100.5" r="1.0"/><circle cx="396.8" cy="115.5" r="1.0"/><circle cx="404.7" cy="115.5" r="1.0"/><circle cx="421.7" cy="114.2" r="1.0"/><circle cx="381.2" cy="120.7" r="1.0"/><circle cx="384.7" cy="113.8" r="1.0"/><circle cx="385.6" cy="115.9" r="1.0"/><circle cx="445.0" cy="102.3" r="1.0"/><circle cx="390.1" cy="108.5" r="1.0"/><circle cx="453.8" cy="112.7" r="1.0"/><circle cx="398.4" cy="110.4" r="1.0"/><circle cx="447.2" cy="104.8" r="1.0"/><circle cx="439.9" cy="108.2" r="1.0"/><circle cx="439.9" cy="106.0" r="1.0"/><circle cx="405.5" cy="102.6" r="1.0"/><circle cx="451.3" cy="96.1" r="1.0"/><circle cx="426.6" cy="104.7" r="1.0"/><circle cx="439.1" cy="97.4" r="1.0"/><circle cx="450.3" cy="96.1" r="1.0"/><circle cx="386.8" cy="116.4" r="1.0"/><circle cx="435.7" cy="109.1" r="1.0"/><circle cx="392.1" cy="120.2" r="1.0"/><circle cx="428.2" cy="88.6" r="1.0"/><circle cx="462.8" cy="111.2" r="1.0"/><circle cx="437.4" cy="103.4" r="1.0"/><circle cx="432.3" cy="104.2" r="1.0"/><circle cx="459.5" cy="99.7" r="1.0"/><circle cx="379.9" cy="117.4" r="1.0"/><circle cx="386.2" cy="120.3" r="1.0"/><circle cx="401.2" cy="105.0" r="1.0"/><circle cx="464.9" cy="111.3" r="1.0"/><circle cx="405.2" cy="118.8" r="1.0"/><circle cx="424.3" cy="103.4" r="1.0"/><circle cx="409.1" cy="111.8" r="1.0"/><circle cx="447.5" cy="93.8" r="1.0"/><circle cx="401.0" cy="111.9" r="1.0"/><circle cx="431.1" cy="93.0" r="1.0"/><circle cx="463.8" cy="109.2" r="1.0"/><circle cx="438.0" cy="99.6" r="1.0"/><circle cx="447.5" cy="110.9" r="1.0"/><circle cx="391.3" cy="118.9" r="1.0"/><circle cx="459.5" cy="109.7" r="1.0"/><circle cx="419.4" cy="114.8" r="1.0"/><circle cx="404.6" cy="119.0" r="1.0"/><circle cx="426.4" cy="112.9" r="1.0"/><circle cx="431.8" cy="108.0" r="1.0"/><circle cx="396.0" cy="111.6" r="1.0"/><circle cx="408.4" cy="113.0" r="1.0"/><circle cx="380.1" cy="120.9" r="1.0"/><circle cx="455.8" cy="108.1" r="1.0"/><circle cx="382.6" cy="119.6" r="1.0"/><circle cx="419.0" cy="91.1" r="1.0"/><circle cx="393.7" cy="106.1" r="1.0"/><circle cx="419.1" cy="106.8" r="1.0"/><circle cx="448.1" cy="104.8" r="1.0"/><circle cx="380.7" cy="117.8" r="1.0"/><circle cx="434.6" cy="97.3" r="1.0"/><circle cx="400.4" cy="101.2" r="1.0"/><circle cx="453.3" cy="93.9" r="1.0"/><circle cx="415.4" cy="97.1" r="1.0"/><circle cx="440.7" cy="110.4" r="1.0"/><circle cx="377.9" cy="120.8" r="1.0"/><circle cx="386.2" cy="120.0" r="1.0"/><circle cx="407.8" cy="101.9" r="1.0"/><circle cx="403.4" cy="108.6" r="1.0"/><circle cx="376.4" cy="121.1" r="1.0"/><circle cx="461.8" cy="112.5" r="1.0"/><circle cx="423.0" cy="94.5" r="1.0"/><circle cx="446.8" cy="96.1" r="1.0"/><circle cx="411.4" cy="99.4" r="1.0"/><circle cx="450.0" cy="96.7" r="1.0"/><circle cx="464.2" cy="111.5" r="1.0"/><circle cx="461.0" cy="108.1" r="1.0"/><circle cx="439.0" cy="108.3" r="1.0"/><circle cx="457.4" cy="113.0" r="1.0"/><circle cx="427.4" cy="110.3" r="1.0"/><circle cx="410.5" cy="110.1" r="1.0"/><circle cx="434.6" cy="91.6" r="1.0"/><circle cx="408.3" cy="104.3" r="1.0"/><circle cx="407.4" cy="112.8" r="1.0"/><circle cx="457.0" cy="108.1" r="1.0"/><circle cx="384.0" cy="117.8" r="1.0"/><circle cx="442.2" cy="109.4" r="1.0"/><circle cx="442.4" cy="100.1" r="1.0"/><circle cx="436.7" cy="110.6" r="1.0"/><circle cx="385.0" cy="119.4" r="1.0"/><circle cx="407.0" cy="109.4" r="1.0"/><circle cx="376.3" cy="120.5" r="1.0"/><circle cx="411.8" cy="110.9" r="1.0"/><circle cx="423.8" cy="90.0" r="1.0"/><circle cx="393.9" cy="105.8" r="1.0"/><circle cx="404.4" cy="103.1" r="1.0"/><circle cx="385.3" cy="110.4" r="1.0"/><circle cx="414.2" cy="94.3" r="1.0"/><circle cx="395.3" cy="113.1" r="1.0"/><circle cx="439.0" cy="110.4" r="1.0"/><circle cx="400.1" cy="106.5" r="1.0"/><circle cx="460.8" cy="109.0" r="1.0"/><circle cx="392.0" cy="115.0" r="1.0"/><circle cx="464.6" cy="111.1" r="1.0"/><circle cx="432.6" cy="104.8" r="1.0"/><circle cx="433.4" cy="109.8" r="1.0"/><circle cx="431.0" cy="89.3" r="1.0"/><circle cx="452.6" cy="100.9" r="1.0"/><circle cx="420.9" cy="102.1" r="1.0"/><circle cx="385.8" cy="111.7" r="1.0"/><circle cx="437.6" cy="102.4" r="1.0"/><circle cx="435.4" cy="103.4" r="1.0"/><circle cx="410.1" cy="113.4" r="1.0"/><circle cx="429.6" cy="99.4" r="1.0"/><circle cx="421.9" cy="116.9" r="1.0"/><circle cx="432.0" cy="102.7" r="1.0"/><circle cx="428.9" cy="98.9" r="1.0"/><circle cx="459.3" cy="111.0" r="1.0"/><circle cx="417.7" cy="91.8" r="1.0"/><circle cx="441.9" cy="106.5" r="1.0"/><circle cx="441.8" cy="87.6" r="1.0"/><circle cx="411.7" cy="97.7" r="1.0"/><circle cx="386.9" cy="109.2" r="1.0"/><circle cx="419.7" cy="111.6" r="1.0"/><circle cx="451.1" cy="99.9" r="1.0"/><circle cx="459.9" cy="102.1" r="1.0"/><circle cx="447.3" cy="101.9" r="1.0"/><circle cx="464.9" cy="111.7" r="1.0"/><circle cx="453.8" cy="99.8" r="1.0"/><circle cx="398.1" cy="104.9" r="1.0"/><circle cx="416.4" cy="104.4" r="1.0"/><circle cx="453.4" cy="109.9" r="1.0"/><circle cx="400.7" cy="107.0" r="1.0"/><circle cx="382.1" cy="116.9" r="1.0"/><circle cx="446.3" cy="102.2" r="1.0"/><circle cx="397.3" cy="105.4" r="1.0"/><circle cx="452.5" cy="97.9" r="1.0"/><circle cx="424.9" cy="90.8" r="1.0"/><circle cx="447.2" cy="110.8" r="1.0"/><circle cx="408.4" cy="116.7" r="1.0"/><circle cx="378.8" cy="119.8" r="1.0"/><circle cx="453.3" cy="97.1" r="1.0"/><circle cx="386.1" cy="118.8" r="1.0"/><circle cx="410.5" cy="98.6" r="1.0"/><circle cx="431.0" cy="88.9" r="1.0"/><circle cx="382.0" cy="113.8" r="1.0"/><circle cx="394.1" cy="109.8" r="1.0"/><circle cx="454.4" cy="99.8" r="1.0"/><circle cx="393.2" cy="109.6" r="1.0"/><circle cx="414.3" cy="118.1" r="1.0"/><circle cx="406.1" cy="112.2" r="1.0"/><circle cx="432.2" cy="107.9" r="1.0"/><circle cx="429.8" cy="95.6" r="1.0"/><circle cx="391.8" cy="118.5" r="1.0"/><circle cx="437.9" cy="102.0" r="1.0"/><circle cx="387.1" cy="119.4" r="1.0"/><circle cx="460.2" cy="105.2" r="1.0"/><circle cx="407.7" cy="114.6" r="1.0"/><circle cx="465.0" cy="107.9" r="1.0"/><circle cx="441.8" cy="105.2" r="1.0"/><circle cx="403.4" cy="110.9" r="1.0"/><circle cx="388.7" cy="112.5" r="1.0"/><circle cx="413.7" cy="98.1" r="1.0"/><circle cx="412.3" cy="107.5" r="1.0"/><circle cx="421.1" cy="91.6" r="1.0"/><circle cx="406.7" cy="103.4" r="1.0"/><circle cx="396.7" cy="109.6" r="1.0"/><circle cx="401.1" cy="102.2" r="1.0"/><circle cx="401.3" cy="102.5" r="1.0"/><circle cx="436.4" cy="102.3" r="1.0"/><circle cx="459.5" cy="107.8" r="1.0"/><circle cx="442.4" cy="98.6" r="1.0"/><circle cx="415.9" cy="116.7" r="1.0"/><circle cx="413.2" cy="111.6" r="1.0"/><circle cx="415.2" cy="94.1" r="1.0"/><circle cx="401.9" cy="105.5" r="1.0"/><circle cx="436.0" cy="108.7" r="1.0"/><circle cx="412.5" cy="115.4" r="1.0"/><circle cx="456.1" cy="109.1" r="1.0"/><circle cx="413.4" cy="110.1" r="1.0"/><circle cx="449.3" cy="94.5" r="1.0"/><circle cx="428.7" cy="100.4" r="1.0"/><circle cx="384.4" cy="112.1" r="1.0"/><circle cx="383.5" cy="117.8" r="1.0"/><circle cx="409.2" cy="102.1" r="1.0"/><circle cx="435.7" cy="105.7" r="1.0"/><circle cx="456.3" cy="97.2" r="1.0"/><circle cx="377.6" cy="119.4" r="1.0"/><circle cx="417.7" cy="108.6" r="1.0"/><circle cx="417.3" cy="109.9" r="1.0"/><circle cx="435.9" cy="97.8" r="1.0"/><circle cx="462.8" cy="103.3" r="1.0"/><circle cx="464.8" cy="109.6" r="1.0"/><circle cx="450.1" cy="99.5" r="1.0"/><circle cx="438.6" cy="86.4" r="1.0"/><circle cx="381.5" cy="117.9" r="1.0"/><circle cx="411.6" cy="102.9" r="1.0"/><circle cx="395.1" cy="103.1" r="1.0"/><circle cx="394.3" cy="114.0" r="1.0"/><circle cx="388.4" cy="115.6" r="1.0"/><circle cx="442.3" cy="112.9" r="1.0"/><circle cx="390.5" cy="111.3" r="1.0"/><circle cx="431.6" cy="93.6" r="1.0"/><circle cx="398.3" cy="104.7" r="1.0"/><circle cx="441.3" cy="93.4" r="1.0"/><circle cx="386.3" cy="115.5" r="1.0"/><circle cx="376.9" cy="119.3" r="1.0"/><circle cx="460.5" cy="101.8" r="1.0"/><circle cx="377.7" cy="120.3" r="1.0"/><circle cx="423.7" cy="102.1" r="1.0"/><circle cx="385.5" cy="112.4" r="1.0"/><circle cx="402.6" cy="109.0" r="1.0"/><circle cx="386.7" cy="114.2" r="1.0"/><circle cx="387.2" cy="119.7" r="1.0"/><circle cx="421.6" cy="109.5" r="1.0"/><circle cx="445.5" cy="108.4" r="1.0"/><circle cx="412.8" cy="117.3" r="1.0"/><circle cx="395.1" cy="112.4" r="1.0"/><circle cx="425.7" cy="103.7" r="1.0"/><circle cx="452.1" cy="111.8" r="1.0"/><circle cx="452.0" cy="110.7" r="1.0"/><circle cx="462.8" cy="107.6" r="1.0"/><circle cx="412.1" cy="103.8" r="1.0"/><circle cx="453.2" cy="94.5" r="1.0"/><circle cx="412.7" cy="118.4" r="1.0"/><circle cx="389.3" cy="109.7" r="1.0"/><circle cx="441.6" cy="95.3" r="1.0"/><circle cx="389.6" cy="113.4" r="1.0"/><circle cx="378.1" cy="121.0" r="1.0"/><circle cx="402.6" cy="99.5" r="1.0"/><circle cx="433.4" cy="90.3" r="1.0"/><circle cx="379.6" cy="119.1" r="1.0"/><circle cx="382.6" cy="119.0" r="1.0"/><circle cx="385.6" cy="111.0" r="1.0"/><circle cx="405.1" cy="108.6" r="1.0"/><circle cx="434.4" cy="89.2" r="1.0"/><circle cx="460.7" cy="105.9" r="1.0"/><circle cx="420.6" cy="92.9" r="1.0"/><circle cx="411.0" cy="111.6" r="1.0"/><circle cx="442.0" cy="108.1" r="1.0"/><circle cx="408.6" cy="109.1" r="1.0"/><circle cx="418.4" cy="108.5" r="1.0"/><circle cx="414.2" cy="107.2" r="1.0"/><circle cx="380.0" cy="116.7" r="1.0"/><circle cx="381.1" cy="117.7" r="1.0"/><circle cx="424.8" cy="105.7" r="1.0"/><circle cx="395.5" cy="118.4" r="1.0"/><circle cx="409.0" cy="111.7" r="1.0"/><circle cx="419.1" cy="111.8" r="1.0"/><circle cx="443.0" cy="101.8" r="1.0"/><circle cx="376.3" cy="120.7" r="1.0"/><circle cx="462.5" cy="112.5" r="1.0"/><circle cx="428.9" cy="87.8" r="1.0"/><circle cx="408.4" cy="105.2" r="1.0"/><circle cx="408.7" cy="112.0" r="1.0"/><circle cx="430.3" cy="98.7" r="1.0"/><circle cx="403.9" cy="108.8" r="1.0"/><circle cx="422.0" cy="96.5" r="1.0"/><circle cx="380.3" cy="120.7" r="1.0"/><circle cx="398.2" cy="114.9" r="1.0"/><circle cx="447.1" cy="104.0" r="1.0"/><circle cx="452.9" cy="105.7" r="1.0"/><circle cx="401.2" cy="106.0" r="1.0"/><circle cx="383.2" cy="112.5" r="1.0"/><circle cx="450.3" cy="106.8" r="1.0"/><circle cx="404.1" cy="101.9" r="1.0"/><circle cx="446.4" cy="98.4" r="1.0"/><circle cx="380.6" cy="116.6" r="1.0"/><circle cx="379.8" cy="117.9" r="1.0"/><circle cx="425.2" cy="90.1" r="1.0"/><circle cx="433.0" cy="115.7" r="1.0"/><circle cx="459.6" cy="102.9" r="1.0"/><circle cx="427.7" cy="116.9" r="1.0"/><circle cx="441.8" cy="103.6" r="1.0"/><circle cx="436.7" cy="86.6" r="1.0"/><circle cx="458.0" cy="112.1" r="1.0"/><circle cx="445.8" cy="103.4" r="1.0"/><circle cx="443.1" cy="104.8" r="1.0"/><circle cx="415.8" cy="107.1" r="1.0"/><circle cx="386.1" cy="117.2" r="1.0"/><circle cx="441.6" cy="113.3" r="1.0"/><circle cx="385.9" cy="111.6" r="1.0"/><circle cx="435.5" cy="99.5" r="1.0"/><circle cx="385.7" cy="119.5" r="1.0"/><circle cx="403.4" cy="99.4" r="1.0"/><circle cx="425.9" cy="90.0" r="1.0"/><circle cx="394.5" cy="113.2" r="1.0"/><circle cx="423.8" cy="93.3" r="1.0"/><circle cx="386.6" cy="110.7" r="1.0"/><circle cx="418.0" cy="117.3" r="1.0"/><circle cx="414.4" cy="109.0" r="1.0"/><circle cx="436.2" cy="88.2" r="1.0"/><circle cx="419.9" cy="99.1" r="1.0"/><circle cx="410.4" cy="100.3" r="1.0"/><circle cx="385.0" cy="113.2" r="1.0"/><circle cx="390.5" cy="112.2" r="1.0"/><circle cx="393.7" cy="114.6" r="1.0"/><circle cx="390.2" cy="115.6" r="1.0"/><circle cx="428.7" cy="101.2" r="1.0"/><circle cx="410.5" cy="105.2" r="1.0"/><circle cx="451.3" cy="106.3" r="1.0"/><circle cx="428.0" cy="102.5" r="1.0"/><circle cx="463.8" cy="109.7" r="1.0"/><circle cx="438.3" cy="108.8" r="1.0"/><circle cx="399.0" cy="105.9" r="1.0"/><circle cx="427.2" cy="109.4" r="1.0"/><circle cx="381.3" cy="115.6" r="1.0"/><circle cx="409.5" cy="102.1" r="1.0"/><circle cx="414.4" cy="102.9" r="1.0"/><circle cx="425.9" cy="88.4" r="1.0"/><circle cx="457.4" cy="106.1" r="1.0"/><circle cx="419.3" cy="111.8" r="1.0"/><circle cx="443.3" cy="112.3" r="1.0"/><circle cx="403.1" cy="101.8" r="1.0"/><circle cx="378.7" cy="118.4" r="1.0"/><circle cx="426.6" cy="100.8" r="1.0"/><circle cx="405.5" cy="116.0" r="1.0"/><circle cx="461.1" cy="103.8" r="1.0"/><circle cx="448.0" cy="112.1" r="1.0"/><circle cx="446.1" cy="109.2" r="1.0"/><circle cx="393.4" cy="111.7" r="1.0"/><circle cx="430.4" cy="113.0" r="1.0"/><circle cx="444.3" cy="99.5" r="1.0"/><circle cx="456.4" cy="97.7" r="1.0"/><circle cx="437.5" cy="105.0" r="1.0"/><circle cx="461.1" cy="104.4" r="1.0"/><circle cx="401.7" cy="102.2" r="1.0"/><circle cx="440.9" cy="107.8" r="1.0"/><circle cx="397.9" cy="119.6" r="1.0"/><circle cx="423.8" cy="110.2" r="1.0"/><circle cx="401.9" cy="114.5" r="1.0"/><circle cx="387.3" cy="114.9" r="1.0"/><circle cx="400.0" cy="114.2" r="1.0"/><circle cx="400.5" cy="109.7" r="1.0"/><circle cx="454.1" cy="110.6" r="1.0"/><circle cx="452.9" cy="96.4" r="1.0"/><circle cx="430.3" cy="100.1" r="1.0"/><circle cx="441.6" cy="100.3" r="1.0"/><circle cx="434.9" cy="88.3" r="1.0"/><circle cx="445.3" cy="108.1" r="1.0"/><circle cx="380.4" cy="115.7" r="1.0"/><circle cx="408.1" cy="101.0" r="1.0"/><circle cx="396.5" cy="112.0" r="1.0"/><circle cx="408.8" cy="102.1" r="1.0"/><circle cx="460.4" cy="106.6" r="1.0"/><circle cx="426.4" cy="106.8" r="1.0"/><circle cx="396.4" cy="103.1" r="1.0"/><circle cx="385.4" cy="110.8" r="1.0"/><circle cx="434.6" cy="114.0" r="1.0"/><circle cx="456.7" cy="111.7" r="1.0"/><circle cx="426.4" cy="113.6" r="1.0"/><circle cx="464.5" cy="110.0" r="1.0"/><circle cx="454.0" cy="112.6" r="1.0"/><circle cx="435.5" cy="114.0" r="1.0"/><circle cx="378.2" cy="119.3" r="1.0"/><circle cx="464.0" cy="107.0" r="1.0"/><circle cx="452.5" cy="97.7" r="1.0"/><circle cx="422.4" cy="115.5" r="1.0"/><circle cx="422.9" cy="112.4" r="1.0"/><circle cx="422.9" cy="107.5" r="1.0"/><circle cx="420.4" cy="112.5" r="1.0"/><circle cx="439.0" cy="103.4" r="1.0"/><circle cx="419.2" cy="115.9" r="1.0"/><circle cx="419.3" cy="102.9" r="1.0"/><circle cx="463.0" cy="107.3" r="1.0"/><circle cx="387.6" cy="117.0" r="1.0"/><circle cx="405.7" cy="103.8" r="1.0"/><circle cx="460.0" cy="100.3" r="1.0"/><circle cx="461.0" cy="101.9" r="1.0"/><circle cx="452.8" cy="94.7" r="1.0"/><circle cx="377.3" cy="120.0" r="1.0"/><circle cx="428.7" cy="96.2" r="1.0"/><circle cx="430.6" cy="97.9" r="1.0"/><circle cx="459.5" cy="111.9" r="1.0"/><circle cx="422.2" cy="90.5" r="1.0"/><circle cx="378.4" cy="120.9" r="1.0"/><circle cx="453.7" cy="94.9" r="1.0"/><circle cx="377.7" cy="121.3" r="1.0"/><circle cx="450.2" cy="98.6" r="1.0"/><circle cx="422.3" cy="101.3" r="1.0"/><circle cx="443.7" cy="93.3" r="1.0"/><circle cx="375.6" cy="121.5" r="1.0"/><circle cx="447.0" cy="90.2" r="1.0"/><circle cx="450.5" cy="105.1" r="1.0"/><circle cx="405.7" cy="111.6" r="1.0"/><circle cx="376.8" cy="119.6" r="1.0"/><circle cx="399.1" cy="108.7" r="1.0"/><circle cx="422.9" cy="108.1" r="1.0"/><circle cx="436.2" cy="102.4" r="1.0"/><circle cx="396.6" cy="104.2" r="1.0"/><circle cx="391.3" cy="118.2" r="1.0"/><circle cx="398.3" cy="110.9" r="1.0"/><circle cx="446.0" cy="106.2" r="1.0"/><circle cx="396.9" cy="108.2" r="1.0"/><circle cx="398.9" cy="109.9" r="1.0"/><circle cx="398.4" cy="103.4" r="1.0"/><circle cx="392.1" cy="116.8" r="1.0"/><circle cx="402.6" cy="112.7" r="1.0"/><circle cx="440.9" cy="96.2" r="1.0"/><circle cx="446.6" cy="101.0" r="1.0"/><circle cx="382.6" cy="114.9" r="1.0"/><circle cx="397.5" cy="116.0" r="1.0"/><circle cx="455.4" cy="25.4" r="1.0"/><circle cx="452.3" cy="46.9" r="1.0"/><circle cx="440.6" cy="66.9" r="1.0"/><circle cx="445.5" cy="60.2" r="1.0"/><circle cx="467.7" cy="62.3" r="1.0"/><circle cx="426.0" cy="73.0" r="1.0"/><circle cx="432.3" cy="76.2" r="1.0"/><circle cx="452.3" cy="70.0" r="1.0"/><circle cx="454.6" cy="37.3" r="1.0"/><circle cx="429.2" cy="56.5" r="1.0"/><circle cx="448.0" cy="64.0" r="1.0"/><circle cx="462.0" cy="72.0" r="1.0"/><circle cx="470.0" cy="86.0" r="1.0"/><circle cx="477.0" cy="99.0" r="1.0"/><circle cx="474.0" cy="92.0" r="1.0"/><circle cx="420.0" cy="84.0" r="1.0"/><circle cx="415.0" cy="88.0" r="1.0"/><circle cx="438.0" cy="80.0" r="1.0"/><circle cx="444.0" cy="83.0" r="1.0"/><circle cx="458.0" cy="79.0" r="1.0"/><circle cx="412.0" cy="80.0" r="1.0"/><circle cx="405.0" cy="86.0" r="1.0"/><circle cx="398.0" cy="92.0" r="1.0"/><circle cx="402.0" cy="90.0" r="1.0"/><circle cx="408.0" cy="87.0" r="1.0"/><circle cx="430.0" cy="78.0" r="1.0"/><circle cx="434.0" cy="74.0" r="1.0"/></g>
<g fill="#b3141c"><circle cx="396.2" cy="113.1" r="1.15"/><circle cx="394.9" cy="117.5" r="1.15"/><circle cx="410.9" cy="113.1" r="1.15"/><circle cx="395.4" cy="118.7" r="1.15"/><circle cx="407.3" cy="114.6" r="1.15"/><circle cx="394.0" cy="114.5" r="1.15"/><circle cx="395.2" cy="117.9" r="1.15"/><circle cx="401.5" cy="114.9" r="1.15"/><circle cx="398.0" cy="114.3" r="1.15"/><circle cx="384.4" cy="116.6" r="1.15"/><circle cx="395.2" cy="119.1" r="1.15"/><circle cx="411.0" cy="118.7" r="1.15"/><circle cx="390.1" cy="113.9" r="1.15"/><circle cx="412.3" cy="113.5" r="1.15"/><circle cx="394.1" cy="113.5" r="1.15"/><circle cx="388.2" cy="115.1" r="1.15"/><circle cx="411.9" cy="118.4" r="1.15"/><circle cx="388.0" cy="115.3" r="1.15"/><circle cx="410.0" cy="115.0" r="1.15"/><circle cx="412.0" cy="116.9" r="1.15"/><circle cx="395.0" cy="118.8" r="1.15"/><circle cx="392.1" cy="113.5" r="1.15"/><circle cx="386.1" cy="118.5" r="1.15"/><circle cx="394.3" cy="119.1" r="1.15"/><circle cx="393.1" cy="118.5" r="1.15"/><circle cx="387.6" cy="116.4" r="1.15"/><circle cx="399.9" cy="116.1" r="1.15"/><circle cx="406.5" cy="116.4" r="1.15"/><circle cx="411.9" cy="119.0" r="1.15"/><circle cx="390.6" cy="119.0" r="1.15"/><circle cx="393.1" cy="114.8" r="1.15"/><circle cx="411.3" cy="116.5" r="1.15"/><circle cx="388.7" cy="117.6" r="1.15"/><circle cx="400.8" cy="117.8" r="1.15"/><circle cx="407.4" cy="113.2" r="1.15"/><circle cx="397.6" cy="115.9" r="1.15"/><circle cx="409.0" cy="116.8" r="1.15"/><circle cx="389.6" cy="113.4" r="1.15"/><circle cx="412.8" cy="119.2" r="1.15"/><circle cx="406.5" cy="117.2" r="1.15"/><circle cx="385.5" cy="118.6" r="1.15"/><circle cx="389.1" cy="114.9" r="1.15"/><circle cx="390.2" cy="119.2" r="1.15"/><circle cx="390.5" cy="114.5" r="1.15"/><circle cx="398.7" cy="115.5" r="1.15"/><circle cx="397.7" cy="118.5" r="1.15"/><circle cx="384.4" cy="117.8" r="1.15"/><circle cx="385.2" cy="118.0" r="1.15"/><circle cx="402.3" cy="117.4" r="1.15"/><circle cx="398.0" cy="115.7" r="1.15"/><circle cx="393.4" cy="117.5" r="1.15"/><circle cx="410.1" cy="116.0" r="1.15"/><circle cx="396.3" cy="116.3" r="1.15"/><circle cx="397.6" cy="117.6" r="1.15"/><circle cx="411.0" cy="118.2" r="1.15"/><circle cx="411.6" cy="114.1" r="1.15"/><circle cx="410.0" cy="118.6" r="1.15"/><circle cx="399.0" cy="113.1" r="1.15"/><circle cx="392.5" cy="118.5" r="1.15"/><circle cx="405.3" cy="118.2" r="1.15"/><circle cx="401.2" cy="118.6" r="1.15"/><circle cx="412.0" cy="117.9" r="1.15"/><circle cx="386.9" cy="115.3" r="1.15"/><circle cx="394.2" cy="116.2" r="1.15"/><circle cx="398.7" cy="113.6" r="1.15"/><circle cx="399.2" cy="117.3" r="1.15"/><circle cx="384.0" cy="116.6" r="1.15"/><circle cx="391.9" cy="116.1" r="1.15"/><circle cx="402.6" cy="116.8" r="1.15"/><circle cx="386.7" cy="116.6" r="1.15"/><circle cx="398.2" cy="115.6" r="1.15"/><circle cx="412.6" cy="117.9" r="1.15"/><circle cx="397.1" cy="119.0" r="1.15"/><circle cx="407.6" cy="118.2" r="1.15"/><circle cx="408.5" cy="114.5" r="1.15"/><circle cx="391.5" cy="113.7" r="1.15"/><circle cx="398.9" cy="117.0" r="1.15"/><circle cx="400.4" cy="113.4" r="1.15"/><circle cx="398.5" cy="116.7" r="1.15"/><circle cx="392.6" cy="114.2" r="1.15"/><circle cx="398.8" cy="117.6" r="1.15"/><circle cx="389.8" cy="118.3" r="1.15"/><circle cx="408.6" cy="114.5" r="1.15"/><circle cx="412.9" cy="113.6" r="1.15"/><circle cx="404.2" cy="114.5" r="1.15"/><circle cx="405.0" cy="114.4" r="1.15"/><circle cx="407.6" cy="118.5" r="1.15"/><circle cx="408.0" cy="117.8" r="1.15"/><circle cx="391.2" cy="113.6" r="1.15"/><circle cx="384.7" cy="116.5" r="1.15"/><circle cx="406.8" cy="102.8" r="1.15"/><circle cx="419.9" cy="94.7" r="1.15"/><circle cx="436.4" cy="97.6" r="1.15"/><circle cx="394.4" cy="110.1" r="1.15"/><circle cx="396.2" cy="104.6" r="1.15"/><circle cx="433.3" cy="106.7" r="1.15"/><circle cx="399.5" cy="107.5" r="1.15"/><circle cx="427.4" cy="89.5" r="1.15"/><circle cx="420.5" cy="113.8" r="1.15"/><circle cx="425.8" cy="114.7" r="1.15"/><circle cx="433.1" cy="94.0" r="1.15"/><circle cx="428.8" cy="92.1" r="1.15"/><circle cx="417.8" cy="94.9" r="1.15"/><circle cx="421.3" cy="104.5" r="1.15"/><circle cx="408.8" cy="110.9" r="1.15"/><circle cx="392.8" cy="117.3" r="1.15"/><circle cx="429.3" cy="109.6" r="1.15"/><circle cx="422.1" cy="97.1" r="1.15"/><circle cx="424.1" cy="103.0" r="1.15"/><circle cx="405.5" cy="113.1" r="1.15"/><circle cx="399.6" cy="108.2" r="1.15"/><circle cx="423.7" cy="92.1" r="1.15"/><circle cx="405.0" cy="101.0" r="1.15"/><circle cx="409.0" cy="98.0" r="1.15"/><circle cx="415.0" cy="97.0" r="1.15"/><circle cx="420.0" cy="93.0" r="1.15"/><circle cx="425.0" cy="88.0" r="1.15"/><circle cx="433.0" cy="90.0" r="1.15"/><circle cx="432.0" cy="100.0" r="1.15"/><circle cx="436.0" cy="108.0" r="1.15"/><circle cx="428.0" cy="110.0" r="1.15"/><circle cx="421.0" cy="111.0" r="1.15"/><circle cx="417.0" cy="113.0" r="1.15"/><circle cx="431.5" cy="110.8" r="1.15"/><circle cx="460.8" cy="104.6" r="1.15"/><circle cx="463.8" cy="90.0" r="1.15"/><circle cx="434.0" cy="86.0" r="1.15"/><circle cx="430.0" cy="96.0" r="1.15"/><circle cx="428.0" cy="100.0" r="1.15"/><circle cx="423.0" cy="104.0" r="1.15"/></g>
<g fill="#7a0e14"><circle cx="428.7" cy="62.8" r="1.2"/><circle cx="431.9" cy="68.0" r="1.2"/><circle cx="459.2" cy="60.8" r="1.2"/><circle cx="477.7" cy="61.5" r="1.2"/><circle cx="455.6" cy="81.0" r="1.2"/></g>
<line x1="394.10" y1="15.60" x2="394.10" y2="126.20" stroke="#555" stroke-width="0.8" stroke-dasharray="1.2 1.6"/>
<line x1="369.00" y1="119.40" x2="514.80" y2="119.40" stroke="#555" stroke-width="0.8" stroke-dasharray="1.2 1.6"/>
<rect x="369.00" y="15.60" width="145.80" height="110.60" fill="none" stroke="#777" stroke-width="1.0"/>
<line x1="367.20" y1="20.50" x2="369.00" y2="20.50" stroke="#555" stroke-width="0.7"/>
<text font-size="7.93" text-anchor="end" letter-spacing="0.17" fill="#262626" stroke="#262626" stroke-width="0.09" transform="translate(365.00 23.40) scale(1 1.1)">60</text>
<line x1="367.20" y1="53.80" x2="369.00" y2="53.80" stroke="#555" stroke-width="0.7"/>
<text font-size="7.93" text-anchor="end" letter-spacing="0.17" fill="#262626" stroke="#262626" stroke-width="0.09" transform="translate(365.00 56.70) scale(1 1.1)">40</text>
<line x1="367.20" y1="87.30" x2="369.00" y2="87.30" stroke="#555" stroke-width="0.7"/>
<text font-size="7.93" text-anchor="end" letter-spacing="0.17" fill="#262626" stroke="#262626" stroke-width="0.09" transform="translate(365.00 90.20) scale(1 1.1)">20</text>
<line x1="367.20" y1="120.60" x2="369.00" y2="120.60" stroke="#555" stroke-width="0.7"/>
<text font-size="7.93" text-anchor="end" letter-spacing="0.17" fill="#262626" stroke="#262626" stroke-width="0.09" transform="translate(365.00 123.50) scale(1 1.1)">0</text>
<line x1="375.60" y1="126.20" x2="375.60" y2="128.00" stroke="#555" stroke-width="0.7"/>
<text font-size="7.93" text-anchor="middle" letter-spacing="0.17" fill="#262626" stroke="#262626" stroke-width="0.09" transform="translate(375.60 135.20) scale(1 1.1)">0.0</text>
<line x1="394.10" y1="126.20" x2="394.10" y2="128.00" stroke="#555" stroke-width="0.7"/>
<text font-size="7.93" text-anchor="middle" letter-spacing="0.17" fill="#262626" stroke="#262626" stroke-width="0.09" transform="translate(394.10 135.20) scale(1 1.1)">1</text>
<line x1="412.50" y1="126.20" x2="412.50" y2="128.00" stroke="#555" stroke-width="0.7"/>
<text font-size="7.93" text-anchor="middle" letter-spacing="0.17" fill="#262626" stroke="#262626" stroke-width="0.09" transform="translate(412.50 135.20) scale(1 1.1)">2.5</text>
<line x1="449.50" y1="126.20" x2="449.50" y2="128.00" stroke="#555" stroke-width="0.7"/>
<text font-size="7.93" text-anchor="middle" letter-spacing="0.17" fill="#262626" stroke="#262626" stroke-width="0.09" transform="translate(449.50 135.20) scale(1 1.1)">5.0</text>
<line x1="486.40" y1="126.20" x2="486.40" y2="128.00" stroke="#555" stroke-width="0.7"/>
<text font-size="7.93" text-anchor="middle" letter-spacing="0.17" fill="#262626" stroke="#262626" stroke-width="0.09" transform="translate(486.40 135.20) scale(1 1.1)">7.5</text>
<text font-size="8.31" text-anchor="middle" letter-spacing="0.17" fill="#262626" stroke="#262626" stroke-width="0.09" transform="translate(441.70 145.40) scale(1 1.1)"><tspan>Log</tspan><tspan font-size="5.65" dy="2.09">2</tspan><tspan dy="-2.09"> fold change</tspan></text>
<text font-size="8.21" text-anchor="middle" letter-spacing="0.17" fill="#262626" stroke="#262626" stroke-width="0.09" transform="translate(349.60 70.30) rotate(-90) scale(1 1.1)"><tspan>–Log</tspan><tspan font-size="5.58" dy="2.06">10</tspan><tspan dy="-2.06">(</tspan><tspan font-style="italic">P</tspan><tspan font-size="5.58" dy="2.06">adj</tspan><tspan dy="-2.06">)</tspan></text>
<text font-size="8.50" text-anchor="middle" letter-spacing="0.18" fill="#262626" stroke="#262626" stroke-width="0.09" transform="translate(441.90 10.30) scale(1 1.1)"><tspan>BCOR</tspan><tspan font-size="4.67" dy="-2.31">KO</tspan><tspan dy="2.31">/BCORL1</tspan><tspan font-size="4.67" dy="-2.31">KO</tspan><tspan dy="2.31"> vs. WT</tspan></text>
<text font-size="8.12" text-anchor="end" letter-spacing="0.17" fill="#262626" stroke="#262626" stroke-width="0.09" transform="translate(511.80 26.90) scale(1 1.1)"><tspan>Up </tspan><tspan font-style="italic">n</tspan><tspan> = 1,642</tspan></text>
<text font-size="8.02" font-style="italic" letter-spacing="0.17" fill="#b3262e" stroke="#b3262e" stroke-width="0.15" transform="translate(436.00 48.00) scale(1 1.1)">FOXO1</text>
<text font-size="8.02" font-style="italic" letter-spacing="0.17" fill="#b3262e" stroke="#b3262e" stroke-width="0.15" transform="translate(439.00 59.00) scale(1 1.1)">PDGFA</text>
<text font-size="8.02" font-style="italic" letter-spacing="0.17" fill="#b3262e" stroke="#b3262e" stroke-width="0.15" transform="translate(485.20 56.50) scale(1 1.1)">FGFR1</text>
<text font-size="8.02" font-style="italic" letter-spacing="0.17" fill="#b3262e" stroke="#b3262e" stroke-width="0.15" transform="translate(468.50 76.90) scale(1 1.1)">JAG1</text>
<text font-size="8.02" font-style="italic" letter-spacing="0.17" fill="#b3262e" stroke="#b3262e" stroke-width="0.15" transform="translate(456.80 116.00) scale(1 1.1)">FGFR2</text>
<line x1="434.40" y1="46.40" x2="428.90" y2="62.60" stroke="#b3262e" stroke-width="0.8"/>
<line x1="438.30" y1="57.30" x2="432.10" y2="67.80" stroke="#b3262e" stroke-width="0.8"/>
<line x1="483.50" y1="54.40" x2="477.90" y2="61.70" stroke="#b3262e" stroke-width="0.8"/>
<line x1="468.00" y1="73.60" x2="455.90" y2="80.80" stroke="#b3262e" stroke-width="0.8"/>
<line x1="456.00" y1="113.00" x2="430.50" y2="113.00" stroke="#b3262e" stroke-width="0.8"/>
<circle cx="370.5" cy="159.3" r="2.7" fill="#b3141c"/>
<text font-size="7.21" letter-spacing="0.15" fill="#262626" stroke="#262626" stroke-width="0.09" transform="translate(375.60 161.50) scale(1 1.1)">Signaling pathways regulating pluripotency</text>
<text font-size="7.21" letter-spacing="0.15" fill="#262626" stroke="#262626" stroke-width="0.09" transform="translate(375.60 169.00) scale(1 1.1)">of stem cells and pathways in cancer</text>
<line x1="369.80" y1="229.60" x2="369.80" y2="290.20" stroke="#666" stroke-width="0.9"/>
<line x1="369.80" y1="290.20" x2="492.50" y2="290.20" stroke="#666" stroke-width="0.9"/>
<line x1="367.80" y1="290.20" x2="369.80" y2="290.20" stroke="#666" stroke-width="0.8"/>
<text font-size="8.21" text-anchor="end" letter-spacing="0.17" fill="#262626" stroke="#262626" stroke-width="0.09" transform="translate(365.40 293.20) scale(1 1.1)">0</text>
<line x1="367.80" y1="275.05" x2="369.80" y2="275.05" stroke="#666" stroke-width="0.8"/>
<text font-size="8.21" text-anchor="end" letter-spacing="0.17" fill="#262626" stroke="#262626" stroke-width="0.09" transform="translate(365.40 278.05) scale(1 1.1)">5</text>
<line x1="367.80" y1="259.90" x2="369.80" y2="259.90" stroke="#666" stroke-width="0.8"/>
<text font-size="8.21" text-anchor="end" letter-spacing="0.17" fill="#262626" stroke="#262626" stroke-width="0.09" transform="translate(365.40 262.90) scale(1 1.1)">10</text>
<line x1="367.80" y1="244.75" x2="369.80" y2="244.75" stroke="#666" stroke-width="0.8"/>
<text font-size="8.21" text-anchor="end" letter-spacing="0.17" fill="#262626" stroke="#262626" stroke-width="0.09" transform="translate(365.40 247.75) scale(1 1.1)">15</text>
<line x1="367.80" y1="229.60" x2="369.80" y2="229.60" stroke="#666" stroke-width="0.8"/>
<text font-size="8.21" text-anchor="end" letter-spacing="0.17" fill="#262626" stroke="#262626" stroke-width="0.09" transform="translate(365.40 232.60) scale(1 1.1)">20</text>
<text font-size="8.21" text-anchor="middle" font-style="italic" letter-spacing="0.17" fill="#262626" stroke="#262626" stroke-width="0.09" transform="translate(431.40 204.40) scale(1 1.1)">Beat AML study</text>
<text font-size="8.50" text-anchor="middle" letter-spacing="0.18" fill="#262626" stroke="#262626" stroke-width="0.09" transform="translate(391.60 222.60) scale(1 1.1)">FGFR1</text>
<line x1="375.00" y1="226.00" x2="408.80" y2="226.00" stroke="#9a9a9a" stroke-width="1.0"/>
<circle cx="385.85" cy="236.0" r="1.0" fill="#2a2a2a"/><circle cx="388.75" cy="236.0" r="1.0" fill="#2a2a2a"/><circle cx="391.65" cy="236.0" r="1.0" fill="#2a2a2a"/><circle cx="394.55" cy="236.0" r="1.0" fill="#2a2a2a"/>
<path d="M382.00 239.6V238.8H398.40V239.6" stroke="#999" stroke-width="0.6" fill="none"/>
<text font-size="8.50" text-anchor="middle" letter-spacing="0.18" fill="#262626" stroke="#262626" stroke-width="0.09" transform="translate(433.40 222.60) scale(1 1.1)">FOXO1</text>
<line x1="416.90" y1="226.00" x2="450.60" y2="226.00" stroke="#9a9a9a" stroke-width="1.0"/>
<circle cx="426.75" cy="236.0" r="1.0" fill="#2a2a2a"/><circle cx="429.65" cy="236.0" r="1.0" fill="#2a2a2a"/><circle cx="432.55" cy="236.0" r="1.0" fill="#2a2a2a"/><circle cx="435.45" cy="236.0" r="1.0" fill="#2a2a2a"/>
<path d="M422.80 239.6V238.8H439.40V239.6" stroke="#999" stroke-width="0.6" fill="none"/>
<text font-size="8.50" text-anchor="middle" letter-spacing="0.18" fill="#262626" stroke="#262626" stroke-width="0.09" transform="translate(476.10 222.60) scale(1 1.1)">PDGFA</text>
<line x1="458.80" y1="226.00" x2="492.50" y2="226.00" stroke="#9a9a9a" stroke-width="1.0"/>
<circle cx="467.20" cy="236.0" r="1.0" fill="#2a2a2a"/><circle cx="470.10" cy="236.0" r="1.0" fill="#2a2a2a"/><circle cx="473.00" cy="236.0" r="1.0" fill="#2a2a2a"/><circle cx="475.90" cy="236.0" r="1.0" fill="#2a2a2a"/>
<path d="M463.40 239.6V238.8H479.70V239.6" stroke="#999" stroke-width="0.6" fill="none"/>
<line x1="382.8" y1="252.6" x2="382.8" y2="273.8" stroke="#7d7d7d" stroke-width="0.8"/>
<line x1="380.3" y1="252.6" x2="385.3" y2="252.6" stroke="#333" stroke-width="0.9"/>
<line x1="380.3" y1="273.8" x2="385.3" y2="273.8" stroke="#333" stroke-width="0.9"/>
<rect x="376.60" y="260.00" width="12.40" height="8.20" fill="#a0a0a0" stroke="#555" stroke-width="0.5"/>
<line x1="376.6" y1="264.0" x2="389.0" y2="264.0" stroke="#eee" stroke-width="0.9"/>
<circle cx="380.24" cy="252.76" r="0.75" fill="#555"/>
<circle cx="384.65" cy="251.81" r="0.75" fill="#555"/>
<circle cx="382.77" cy="252.12" r="0.75" fill="#555"/>
<circle cx="383.86" cy="252.66" r="0.75" fill="#555"/>
<circle cx="379.96" cy="251.45" r="0.75" fill="#555"/>
<circle cx="385.15" cy="252.09" r="0.75" fill="#555"/>
<circle cx="384.64" cy="273.00" r="0.75" fill="#555"/>
<circle cx="382.42" cy="274.15" r="0.75" fill="#555"/>
<circle cx="380.90" cy="274.51" r="0.75" fill="#555"/>
<circle cx="385.61" cy="273.05" r="0.75" fill="#555"/>
<circle cx="379.48" cy="273.87" r="0.75" fill="#555"/>
<circle cx="385.87" cy="273.61" r="0.75" fill="#555"/>
<circle cx="382.80" cy="279.60" r="0.75" fill="#555"/>
<circle cx="382.80" cy="245.50" r="0.75" fill="#555"/>
<line x1="397.6" y1="251.0" x2="397.6" y2="265.3" stroke="#7d7d7d" stroke-width="0.8"/>
<line x1="395.1" y1="251.0" x2="400.1" y2="251.0" stroke="#333" stroke-width="0.9"/>
<line x1="395.1" y1="265.3" x2="400.1" y2="265.3" stroke="#333" stroke-width="0.9"/>
<rect x="391.40" y="253.00" width="12.40" height="6.10" fill="#cf2027" stroke="#7a1015" stroke-width="0.5"/>
<line x1="391.40000000000003" y1="256.5" x2="403.8" y2="256.5" stroke="#f2a0a0" stroke-width="0.9"/>
<line x1="423.6" y1="255.0" x2="423.6" y2="270.6" stroke="#7d7d7d" stroke-width="0.8"/>
<line x1="421.1" y1="255.0" x2="426.1" y2="255.0" stroke="#333" stroke-width="0.9"/>
<line x1="421.1" y1="270.6" x2="426.1" y2="270.6" stroke="#333" stroke-width="0.9"/>
<rect x="417.40" y="259.40" width="12.40" height="5.40" fill="#a0a0a0" stroke="#555" stroke-width="0.5"/>
<line x1="417.40000000000003" y1="262.0" x2="429.8" y2="262.0" stroke="#eee" stroke-width="0.9"/>
<circle cx="426.79" cy="255.32" r="0.75" fill="#555"/>
<circle cx="420.50" cy="253.94" r="0.75" fill="#555"/>
<circle cx="425.95" cy="254.98" r="0.75" fill="#555"/>
<circle cx="424.79" cy="254.29" r="0.75" fill="#555"/>
<circle cx="424.34" cy="254.77" r="0.75" fill="#555"/>
<circle cx="424.17" cy="254.05" r="0.75" fill="#555"/>
<circle cx="423.11" cy="254.43" r="0.75" fill="#555"/>
<circle cx="425.16" cy="271.79" r="0.75" fill="#555"/>
<circle cx="426.75" cy="271.07" r="0.75" fill="#555"/>
<circle cx="423.21" cy="270.63" r="0.75" fill="#555"/>
<circle cx="420.35" cy="270.24" r="0.75" fill="#555"/>
<circle cx="423.35" cy="270.71" r="0.75" fill="#555"/>
<circle cx="422.76" cy="271.63" r="0.75" fill="#555"/>
<circle cx="423.78" cy="271.10" r="0.75" fill="#555"/>
<circle cx="423.60" cy="251.50" r="0.75" fill="#555"/>
<circle cx="423.60" cy="274.00" r="0.75" fill="#555"/>
<line x1="438.6" y1="252.8" x2="438.6" y2="268.1" stroke="#7d7d7d" stroke-width="0.8"/>
<line x1="436.1" y1="252.8" x2="441.1" y2="252.8" stroke="#333" stroke-width="0.9"/>
<line x1="436.1" y1="268.1" x2="441.1" y2="268.1" stroke="#333" stroke-width="0.9"/>
<rect x="432.40" y="255.60" width="12.40" height="4.20" fill="#cf2027" stroke="#7a1015" stroke-width="0.5"/>
<line x1="432.40000000000003" y1="257.5" x2="444.8" y2="257.5" stroke="#f2a0a0" stroke-width="0.9"/>
<line x1="464.2" y1="264.4" x2="464.2" y2="285.6" stroke="#7d7d7d" stroke-width="0.8"/>
<line x1="461.7" y1="264.4" x2="466.7" y2="264.4" stroke="#333" stroke-width="0.9"/>
<line x1="461.7" y1="285.6" x2="466.7" y2="285.6" stroke="#333" stroke-width="0.9"/>
<rect x="458.00" y="274.40" width="12.40" height="5.90" fill="#a0a0a0" stroke="#555" stroke-width="0.5"/>
<line x1="458.0" y1="277.5" x2="470.4" y2="277.5" stroke="#eee" stroke-width="0.9"/>
<circle cx="461.84" cy="264.47" r="0.75" fill="#555"/>
<circle cx="463.03" cy="264.57" r="0.75" fill="#555"/>
<circle cx="465.33" cy="263.70" r="0.75" fill="#555"/>
<circle cx="459.82" cy="264.94" r="0.75" fill="#555"/>
<circle cx="462.03" cy="263.97" r="0.75" fill="#555"/>
<circle cx="468.66" cy="264.35" r="0.75" fill="#555"/>
<circle cx="467.23" cy="264.36" r="0.75" fill="#555"/>
<circle cx="465.45" cy="263.84" r="0.75" fill="#555"/>
<circle cx="465.41" cy="287.09" r="0.75" fill="#555"/>
<circle cx="464.41" cy="286.89" r="0.75" fill="#555"/>
<circle cx="465.74" cy="285.80" r="0.75" fill="#555"/>
<circle cx="466.52" cy="286.65" r="0.75" fill="#555"/>
<circle cx="462.41" cy="285.75" r="0.75" fill="#555"/>
<circle cx="467.49" cy="286.46" r="0.75" fill="#555"/>
<circle cx="466.17" cy="287.11" r="0.75" fill="#555"/>
<circle cx="466.13" cy="287.17" r="0.75" fill="#555"/>
<circle cx="464.20" cy="260.20" r="0.75" fill="#555"/>
<circle cx="464.20" cy="288.20" r="0.75" fill="#555"/>
<line x1="478.9" y1="254.8" x2="478.9" y2="283.4" stroke="#7d7d7d" stroke-width="0.8"/>
<line x1="476.4" y1="254.8" x2="481.4" y2="254.8" stroke="#333" stroke-width="0.9"/>
<line x1="476.4" y1="283.4" x2="481.4" y2="283.4" stroke="#333" stroke-width="0.9"/>
<rect x="472.70" y="264.90" width="12.40" height="10.00" fill="#cf2027" stroke="#7a1015" stroke-width="0.5"/>
<line x1="472.7" y1="269.8" x2="485.09999999999997" y2="269.8" stroke="#f2a0a0" stroke-width="0.9"/>
<text font-size="8.21" text-anchor="middle" letter-spacing="0.17" fill="#262626" stroke="#262626" stroke-width="0.09" transform="translate(340.60 260.70) rotate(-90) scale(1 1.1)">Gene expression</text>
<text font-size="8.21" text-anchor="middle" letter-spacing="0.17" fill="#262626" stroke="#262626" stroke-width="0.09" transform="translate(351.20 260.20) rotate(-90) scale(1 1.1)"><tspan>log</tspan><tspan font-size="5.58" dy="2.06">2</tspan><tspan dy="-2.06">(counts+1)</tspan></text>
<line x1="382.80" y1="290.20" x2="382.80" y2="292.80" stroke="#666" stroke-width="0.8"/>
<text font-size="8.40" text-anchor="end" letter-spacing="0.18" fill="#262626" stroke="#262626" stroke-width="0.09" transform="translate(384.80 300.60) rotate(-45) scale(1 1.1)"><tspan>BCOR</tspan><tspan font-size="4.37" dy="-2.29">WT</tspan></text>
<line x1="423.60" y1="290.20" x2="423.60" y2="292.80" stroke="#666" stroke-width="0.8"/>
<text font-size="8.40" text-anchor="end" letter-spacing="0.18" fill="#262626" stroke="#262626" stroke-width="0.09" transform="translate(425.60 300.60) rotate(-45) scale(1 1.1)"><tspan>BCOR</tspan><tspan font-size="4.37" dy="-2.29">WT</tspan></text>
<line x1="464.20" y1="290.20" x2="464.20" y2="292.80" stroke="#666" stroke-width="0.8"/>
<text font-size="8.40" text-anchor="end" letter-spacing="0.18" fill="#262626" stroke="#262626" stroke-width="0.09" transform="translate(466.20 300.60) rotate(-45) scale(1 1.1)"><tspan>BCOR</tspan><tspan font-size="4.37" dy="-2.29">WT</tspan></text>
<line x1="397.60" y1="290.20" x2="397.60" y2="292.80" stroke="#666" stroke-width="0.8"/>
<text font-size="8.40" text-anchor="end" letter-spacing="0.18" fill="#262626" stroke="#262626" stroke-width="0.09" transform="translate(399.60 300.60) rotate(-45) scale(1 1.1)"><tspan>BCOR</tspan><tspan font-size="4.37" dy="-2.29">mut</tspan></text>
<line x1="438.60" y1="290.20" x2="438.60" y2="292.80" stroke="#666" stroke-width="0.8"/>
<text font-size="8.40" text-anchor="end" letter-spacing="0.18" fill="#262626" stroke="#262626" stroke-width="0.09" transform="translate(440.60 300.60) rotate(-45) scale(1 1.1)"><tspan>BCOR</tspan><tspan font-size="4.37" dy="-2.29">mut</tspan></text>
<line x1="478.90" y1="290.20" x2="478.90" y2="292.80" stroke="#666" stroke-width="0.8"/>
<text font-size="8.40" text-anchor="end" letter-spacing="0.18" fill="#262626" stroke="#262626" stroke-width="0.09" transform="translate(480.90 300.60) rotate(-45) scale(1 1.1)"><tspan>BCOR</tspan><tspan font-size="4.37" dy="-2.29">mut</tspan></text>
<text font-size="8.40" text-anchor="middle" font-style="italic" letter-spacing="0.18" fill="#262626" stroke="#262626" stroke-width="0.09" transform="translate(159.20 363.50) scale(1 1.1)">Primary AML samples</text>
<text font-size="8.21" text-anchor="middle" font-style="italic" letter-spacing="0.17" fill="#262626" stroke="#262626" stroke-width="0.09" transform="translate(427.00 363.20) scale(1 1.1)">Primary AML samples</text>
<text font-size="8.40" text-anchor="end" letter-spacing="0.18" fill="#262626" stroke="#262626" stroke-width="0.09" transform="translate(56.40 396.30) scale(1 1.1)">H3K27me3</text>
<text font-size="8.40" text-anchor="end" letter-spacing="0.18" fill="#262626" stroke="#262626" stroke-width="0.09" transform="translate(56.40 409.40) scale(1 1.1)">H3K27ac</text>
<rect x="60.00" y="386.00" width="43.50" height="43.30" fill="none" stroke="#b4b4b4" stroke-width="0.9"/>
<line x1="60.00" y1="411.30" x2="103.50" y2="411.30" stroke="#c8c8c8" stroke-width="0.7"/>
<text font-size="8.50" text-anchor="middle" letter-spacing="0.18" fill="#262626" stroke="#262626" stroke-width="0.09" transform="translate(81.75 382.60) scale(1 1.1)"><tspan>BCOR</tspan><tspan font-size="4.42" dy="-2.31">WT</tspan></text>
<text font-size="5.63" text-anchor="end" letter-spacing="0.12" fill="#444" stroke="#444" stroke-width="0.1" transform="translate(98.90 391.60) scale(1 1.1)">[0–0.78]</text>
<text font-size="5.63" text-anchor="end" letter-spacing="0.12" fill="#444" stroke="#444" stroke-width="0.1" transform="translate(98.90 404.50) scale(1 1.1)">[0–4.30]</text>
<line x1="60.50" y1="398.40" x2="103.00" y2="398.40" stroke="#3c52ad" stroke-width="0.7"/>
<line x1="62.00" y1="416.50" x2="81.31" y2="416.50" stroke="#333" stroke-width="0.6"/>
<path d="M66.0 415.5 l1 1 l-1 1" stroke="#333" stroke-width="0.4" fill="none"/>
<path d="M70.4 415.5 l1 1 l-1 1" stroke="#333" stroke-width="0.4" fill="none"/>
<path d="M74.9 415.5 l1 1 l-1 1" stroke="#333" stroke-width="0.4" fill="none"/>
<rect x="77.91" y="414.30" width="1.30" height="4.40" fill="#222" stroke="none" stroke-width="1"/>
<rect x="79.91" y="414.30" width="1.30" height="4.40" fill="#222" stroke="none" stroke-width="1"/>
<text font-size="7.64" font-style="italic" letter-spacing="0.16" fill="#262626" stroke="#262626" stroke-width="0.09" transform="translate(64.90 426.50) scale(1 1.1)">JAG1</text>
<rect x="105.00" y="386.00" width="43.60" height="43.30" fill="none" stroke="#b4b4b4" stroke-width="0.9"/>
<line x1="105.00" y1="411.30" x2="148.60" y2="411.30" stroke="#c8c8c8" stroke-width="0.7"/>
<text font-size="8.50" text-anchor="middle" letter-spacing="0.18" fill="#262626" stroke="#262626" stroke-width="0.09" transform="translate(127.80 382.60) scale(1 1.1)"><tspan>BCOR</tspan><tspan font-size="4.42" dy="-2.31">PUFD-Tr</tspan></text>
<text font-size="5.63" text-anchor="end" letter-spacing="0.12" fill="#444" stroke="#444" stroke-width="0.1" transform="translate(144.00 391.60) scale(1 1.1)">[0–0.78]</text>
<text font-size="5.63" text-anchor="end" letter-spacing="0.12" fill="#444" stroke="#444" stroke-width="0.1" transform="translate(144.00 404.50) scale(1 1.1)">[0–4.30]</text>
<line x1="105.50" y1="398.40" x2="148.10" y2="398.40" stroke="#3c52ad" stroke-width="0.7"/>
<line x1="107.00" y1="416.50" x2="126.36" y2="416.50" stroke="#333" stroke-width="0.6"/>
<path d="M111.0 415.5 l1 1 l-1 1" stroke="#333" stroke-width="0.4" fill="none"/>
<path d="M115.5 415.5 l1 1 l-1 1" stroke="#333" stroke-width="0.4" fill="none"/>
<path d="M119.9 415.5 l1 1 l-1 1" stroke="#333" stroke-width="0.4" fill="none"/>
<rect x="122.96" y="414.30" width="1.30" height="4.40" fill="#222" stroke="none" stroke-width="1"/>
<rect x="124.96" y="414.30" width="1.30" height="4.40" fill="#222" stroke="none" stroke-width="1"/>
<text font-size="7.64" font-style="italic" letter-spacing="0.16" fill="#262626" stroke="#262626" stroke-width="0.09" transform="translate(109.90 426.50) scale(1 1.1)">JAG1</text>
<rect x="160.30" y="386.00" width="48.30" height="43.30" fill="none" stroke="#b4b4b4" stroke-width="0.9"/>
<line x1="160.30" y1="411.30" x2="208.60" y2="411.30" stroke="#c8c8c8" stroke-width="0.7"/>
<text font-size="8.50" text-anchor="middle" letter-spacing="0.18" fill="#262626" stroke="#262626" stroke-width="0.09" transform="translate(184.45 382.60) scale(1 1.1)"><tspan>BCOR</tspan><tspan font-size="4.42" dy="-2.31">WT</tspan></text>
<text font-size="5.63" text-anchor="end" letter-spacing="0.12" fill="#444" stroke="#444" stroke-width="0.1" transform="translate(204.00 391.60) scale(1 1.1)">[0–0.69]</text>
<text font-size="5.63" text-anchor="end" letter-spacing="0.12" fill="#444" stroke="#444" stroke-width="0.1" transform="translate(204.00 404.50) scale(1 1.1)">[0–5.06]</text>
<line x1="160.80" y1="398.40" x2="208.10" y2="398.40" stroke="#3c52ad" stroke-width="0.7"/>
<line x1="162.30" y1="416.50" x2="189.28" y2="416.50" stroke="#333" stroke-width="0.6"/>
<path d="M166.3 415.5 l1 1 l-1 1" stroke="#333" stroke-width="0.4" fill="none"/>
<path d="M173.3 415.5 l1 1 l-1 1" stroke="#333" stroke-width="0.4" fill="none"/>
<path d="M180.3 415.5 l1 1 l-1 1" stroke="#333" stroke-width="0.4" fill="none"/>
<circle cx="189.28" cy="416.8" r="1.9" fill="#111"/>
<text font-size="7.64" font-style="italic" letter-spacing="0.16" fill="#262626" stroke="#262626" stroke-width="0.09" transform="translate(165.20 426.50) scale(1 1.1)">FOXO1</text>
<rect x="209.00" y="386.00" width="49.50" height="43.30" fill="none" stroke="#b4b4b4" stroke-width="0.9"/>
<line x1="209.00" y1="411.30" x2="258.50" y2="411.30" stroke="#c8c8c8" stroke-width="0.7"/>
<text font-size="8.50" text-anchor="middle" letter-spacing="0.18" fill="#262626" stroke="#262626" stroke-width="0.09" transform="translate(234.75 382.60) scale(1 1.1)"><tspan>BCOR</tspan><tspan font-size="4.42" dy="-2.31">PUFD-Tr</tspan></text>
<text font-size="5.63" text-anchor="end" letter-spacing="0.12" fill="#444" stroke="#444" stroke-width="0.1" transform="translate(253.90 391.60) scale(1 1.1)">[0–0.69]</text>
<text font-size="5.63" text-anchor="end" letter-spacing="0.12" fill="#444" stroke="#444" stroke-width="0.1" transform="translate(253.90 404.50) scale(1 1.1)">[0–5.06]</text>
<line x1="209.50" y1="398.40" x2="258.00" y2="398.40" stroke="#3c52ad" stroke-width="0.7"/>
<line x1="211.00" y1="416.50" x2="238.70" y2="416.50" stroke="#333" stroke-width="0.6"/>
<path d="M215.0 415.5 l1 1 l-1 1" stroke="#333" stroke-width="0.4" fill="none"/>
<path d="M222.2 415.5 l1 1 l-1 1" stroke="#333" stroke-width="0.4" fill="none"/>
<path d="M229.5 415.5 l1 1 l-1 1" stroke="#333" stroke-width="0.4" fill="none"/>
<circle cx="238.70" cy="416.8" r="1.9" fill="#111"/>
<text font-size="7.64" font-style="italic" letter-spacing="0.16" fill="#262626" stroke="#262626" stroke-width="0.09" transform="translate(213.90 426.50) scale(1 1.1)">FOXO1</text>
<path d="M59.72 398.60 L60.80 397.40 L61.88 398.60 Z M61.28 398.60 L62.50 397.20 L63.72 398.60 Z M63.42 398.60 L64.50 397.60 L65.58 398.60 Z M65.56 398.60 L66.50 397.80 L67.44 398.60 Z M68.69 398.60 L69.50 398.00 L70.31 398.60 Z" fill="#3647b8"/>
<path d="M72.50 398.60 L72.50 398.60 L73.50 396.80 L75.00 396.00 L76.50 395.60 L77.50 394.00 L78.60 393.20 L79.50 392.00 L80.60 391.30 L81.50 392.20 L82.30 393.60 L83.00 396.10 L83.80 397.80 L83.80 398.60 Z" fill="#3647b8" opacity="1.0"/>
<path d="M83.38 398.60 L84.60 393.00 L85.81 398.60 Z M85.52 398.60 L86.60 394.60 L87.68 398.60 Z M88.38 398.60 L89.60 393.80 L90.81 398.60 Z M90.98 398.60 L92.20 395.60 L93.42 398.60 Z M93.69 398.60 L94.50 397.60 L95.31 398.60 Z M99.46 398.60 L100.40 395.80 L101.34 398.60 Z M96.33 398.60 L97.00 398.00 L97.67 398.60 Z" fill="#3647b8"/>
<path d="M104.92 398.60 L106.00 397.20 L107.08 398.60 Z M106.58 398.60 L107.80 396.90 L109.02 398.60 Z M109.06 398.60 L110.00 397.60 L110.94 398.60 Z M113.33 398.60 L114.00 398.10 L114.67 398.60 Z M117.19 398.60 L118.00 398.00 L118.81 398.60 Z M120.42 398.60 L121.50 396.80 L122.58 398.60 Z M121.98 398.60 L123.20 396.20 L124.42 398.60 Z M123.92 398.60 L125.00 397.00 L126.08 398.60 Z M126.06 398.60 L127.00 397.40 L127.94 398.60 Z M128.12 398.60 L129.20 396.90 L130.28 398.60 Z M130.06 398.60 L131.00 397.30 L131.94 398.60 Z M135.38 398.60 L136.60 396.40 L137.81 398.60 Z M137.42 398.60 L138.50 397.00 L139.58 398.60 Z M139.69 398.60 L140.50 397.60 L141.31 398.60 Z M144.66 398.60 L145.60 395.40 L146.54 398.60 Z" fill="#3647b8"/>
<path d="M160.32 398.60 L161.40 397.00 L162.48 398.60 Z M163.19 398.60 L164.00 397.80 L164.81 398.60 Z M165.92 398.60 L167.00 397.40 L168.08 398.60 Z M170.22 398.60 L171.30 396.40 L172.38 398.60 Z M171.72 398.60 L172.80 396.00 L173.88 398.60 Z M173.36 398.60 L174.30 396.80 L175.25 398.60 Z M175.32 398.60 L176.40 396.60 L177.48 398.60 Z M176.79 398.60 L177.60 397.40 L178.41 398.60 Z" fill="#3647b8"/>
<path d="M178.80 398.60 L178.80 398.60 L179.60 396.40 L180.60 395.20 L181.60 393.00 L182.60 391.80 L183.50 391.00 L184.40 391.60 L185.30 392.80 L186.20 394.20 L187.20 394.60 L188.20 395.00 L189.00 396.40 L190.00 397.20 L193.50 397.40 L195.50 397.00 L196.50 397.60 L197.40 398.60 L197.40 398.60 Z" fill="#3647b8" opacity="1.0"/>
<path d="M197.36 398.60 L198.30 396.60 L199.25 398.60 Z M201.82 398.60 L202.50 397.80 L203.18 398.60 Z" fill="#3647b8"/>
<path d="M208.78 398.60 L210.00 396.20 L211.22 398.60 Z M211.19 398.60 L212.00 397.60 L212.81 398.60 Z M214.59 398.60 L215.80 395.60 L217.02 398.60 Z M220.06 398.60 L221.00 397.20 L221.94 398.60 Z M222.42 398.60 L223.50 396.60 L224.58 398.60 Z M224.56 398.60 L225.50 397.00 L226.44 398.60 Z M229.38 398.60 L230.60 395.80 L231.81 398.60 Z M231.09 398.60 L232.30 395.40 L233.52 398.60 Z M232.78 398.60 L234.00 396.00 L235.22 398.60 Z M234.72 398.60 L235.80 396.60 L236.88 398.60 Z M236.52 398.60 L237.60 396.40 L238.68 398.60 Z M238.32 398.60 L239.40 396.60 L240.48 398.60 Z M240.12 398.60 L241.20 396.50 L242.28 398.60 Z M241.92 398.60 L243.00 396.70 L244.08 398.60 Z M244.06 398.60 L245.00 397.00 L245.94 398.60 Z M249.99 398.60 L250.80 397.60 L251.61 398.60 Z" fill="#3647b8"/>
<path d="M120.60 411.00 L120.60 411.00 L121.60 409.60 L122.60 408.80 L123.80 408.40 L125.00 408.00 L126.20 407.60 L127.20 406.40 L128.00 404.20 L128.80 402.40 L129.40 401.80 L130.00 404.00 L130.50 408.00 L131.00 411.00 L131.00 411.00 Z" fill="#d0621c" opacity="1.0"/>
<path d="M229.60 411.00 L229.60 411.00 L230.40 409.20 L231.40 407.20 L232.60 405.60 L233.60 404.80 L234.60 405.20 L235.60 404.40 L236.60 403.00 L237.60 402.40 L238.60 403.20 L239.60 404.40 L240.40 407.00 L241.00 409.40 L241.60 411.00 L241.60 411.00 Z" fill="#d0621c" opacity="1.0"/>
<path d="M234.2 407.4 L235.2 406.2 L236 407.6 Z" fill="#f3c9a8"/>
<path d="M180.09 410.90 L181.30 409.90 L182.52 410.90 Z M181.92 410.90 L183.00 410.10 L184.08 410.90 Z M185.28 410.90 L186.50 409.50 L187.72 410.90 Z M186.98 410.90 L188.20 409.30 L189.41 410.90 Z M188.92 410.90 L190.00 409.90 L191.08 410.90 Z" fill="#c8482a"/>
<line x1="353.70" y1="386.20" x2="353.70" y2="415.00" stroke="#777" stroke-width="0.8"/>
<line x1="353.70" y1="415.00" x2="395.50" y2="415.00" stroke="#777" stroke-width="0.8"/>
<line x1="351.90" y1="386.20" x2="353.70" y2="386.20" stroke="#777" stroke-width="0.7"/>
<text font-size="7.26" text-anchor="end" letter-spacing="0.15" fill="#262626" stroke="#262626" stroke-width="0.09" transform="translate(349.40 388.80) scale(1 1.1)">1,000</text>
<line x1="351.90" y1="400.60" x2="353.70" y2="400.60" stroke="#777" stroke-width="0.7"/>
<text font-size="7.26" text-anchor="end" letter-spacing="0.15" fill="#262626" stroke="#262626" stroke-width="0.09" transform="translate(349.40 403.20) scale(1 1.1)">500</text>
<line x1="351.90" y1="415.00" x2="353.70" y2="415.00" stroke="#777" stroke-width="0.7"/>
<text font-size="7.26" text-anchor="end" letter-spacing="0.15" fill="#262626" stroke="#262626" stroke-width="0.09" transform="translate(349.40 417.60) scale(1 1.1)">0</text>
<line x1="364.80" y1="413.70" x2="364.80" y2="414.20" stroke="#555" stroke-width="0.6"/>
<line x1="362.50" y1="413.70" x2="367.10" y2="413.70" stroke="#555" stroke-width="0.6"/>
<rect x="362.00" y="414.20" width="5.60" height="0.80" fill="#bdbdbd" stroke="#888" stroke-width="0.3"/>
<line x1="382.40" y1="393.00" x2="382.40" y2="397.50" stroke="#555" stroke-width="0.6"/>
<line x1="380.10" y1="393.00" x2="384.70" y2="393.00" stroke="#555" stroke-width="0.6"/>
<rect x="377.00" y="397.50" width="10.80" height="17.50" fill="#c62026" stroke="#9a1a1e" stroke-width="0.3"/>
<text font-size="7.93" letter-spacing="0.17" fill="#262626" stroke="#262626" stroke-width="0.09" transform="translate(343.10 378.20) scale(1 1.1)"><tspan font-style="italic">JAG1</tspan><tspan> expression</tspan></text>
<line x1="460.60" y1="385.80" x2="460.60" y2="414.80" stroke="#777" stroke-width="0.8"/>
<line x1="460.60" y1="414.80" x2="502.00" y2="414.80" stroke="#777" stroke-width="0.8"/>
<line x1="458.80" y1="386.20" x2="460.60" y2="386.20" stroke="#777" stroke-width="0.7"/>
<text font-size="7.26" text-anchor="end" letter-spacing="0.15" fill="#262626" stroke="#262626" stroke-width="0.09" transform="translate(456.30 388.80) scale(1 1.1)">3,000</text>
<line x1="458.80" y1="395.60" x2="460.60" y2="395.60" stroke="#777" stroke-width="0.7"/>
<text font-size="7.26" text-anchor="end" letter-spacing="0.15" fill="#262626" stroke="#262626" stroke-width="0.09" transform="translate(456.30 398.20) scale(1 1.1)">2,000</text>
<line x1="458.80" y1="405.00" x2="460.60" y2="405.00" stroke="#777" stroke-width="0.7"/>
<text font-size="7.26" text-anchor="end" letter-spacing="0.15" fill="#262626" stroke="#262626" stroke-width="0.09" transform="translate(456.30 407.60) scale(1 1.1)">1,000</text>
<line x1="458.80" y1="414.40" x2="460.60" y2="414.40" stroke="#777" stroke-width="0.7"/>
<text font-size="7.26" text-anchor="end" letter-spacing="0.15" fill="#262626" stroke="#262626" stroke-width="0.09" transform="translate(456.30 417.00) scale(1 1.1)">0</text>
<line x1="473.45" y1="411.00" x2="473.45" y2="412.40" stroke="#555" stroke-width="0.6"/>
<line x1="471.15" y1="411.00" x2="475.75" y2="411.00" stroke="#555" stroke-width="0.6"/>
<rect x="468.10" y="412.40" width="10.70" height="2.40" fill="#d0d0d0" stroke="#888" stroke-width="0.3"/>
<line x1="490.65" y1="389.40" x2="490.65" y2="394.80" stroke="#555" stroke-width="0.6"/>
<line x1="488.35" y1="389.40" x2="492.95" y2="389.40" stroke="#555" stroke-width="0.6"/>
<rect x="485.00" y="394.80" width="11.30" height="20.00" fill="#c62026" stroke="#9a1a1e" stroke-width="0.3"/>
<text font-size="7.93" letter-spacing="0.17" fill="#262626" stroke="#262626" stroke-width="0.09" transform="translate(447.30 378.20) scale(1 1.1)"><tspan font-style="italic">FOXO1</tspan><tspan> expression</tspan></text>
<text font-size="8.21" text-anchor="middle" letter-spacing="0.17" fill="#262626" stroke="#262626" stroke-width="0.09" transform="translate(320.20 401.50) rotate(-90) scale(1 1.1)">Norm.</text>
<text font-size="8.21" text-anchor="middle" letter-spacing="0.17" fill="#262626" stroke="#262626" stroke-width="0.09" transform="translate(328.70 401.00) rotate(-90) scale(1 1.1)">counts</text>
<text font-size="8.21" text-anchor="middle" letter-spacing="0.17" fill="#262626" stroke="#262626" stroke-width="0.09" transform="translate(426.90 401.50) rotate(-90) scale(1 1.1)">Norm.</text>
<text font-size="8.21" text-anchor="middle" letter-spacing="0.17" fill="#262626" stroke="#262626" stroke-width="0.09" transform="translate(435.40 401.00) rotate(-90) scale(1 1.1)">counts</text>
<line x1="364.80" y1="415.00" x2="364.80" y2="417.00" stroke="#777" stroke-width="0.7"/>
<text font-size="8.40" text-anchor="end" letter-spacing="0.18" fill="#262626" stroke="#262626" stroke-width="0.09" transform="translate(368.10 424.60) rotate(-45) scale(1 1.1)"><tspan>BCOR</tspan><tspan font-size="4.37" dy="-2.29">WT</tspan></text>
<line x1="382.40" y1="415.00" x2="382.40" y2="417.00" stroke="#777" stroke-width="0.7"/>
<text font-size="8.40" text-anchor="end" letter-spacing="0.18" fill="#262626" stroke="#262626" stroke-width="0.09" transform="translate(385.70 424.60) rotate(-45) scale(1 1.1)"><tspan>BCOR</tspan><tspan font-size="4.37" dy="-2.29">PUFD-Tr</tspan></text>
<line x1="473.40" y1="415.00" x2="473.40" y2="417.00" stroke="#777" stroke-width="0.7"/>
<text font-size="8.40" text-anchor="end" letter-spacing="0.18" fill="#262626" stroke="#262626" stroke-width="0.09" transform="translate(476.70 424.60) rotate(-45) scale(1 1.1)"><tspan>BCOR</tspan><tspan font-size="4.37" dy="-2.29">WT</tspan></text>
<line x1="490.60" y1="415.00" x2="490.60" y2="417.00" stroke="#777" stroke-width="0.7"/>
<text font-size="8.40" text-anchor="end" letter-spacing="0.18" fill="#262626" stroke="#262626" stroke-width="0.09" transform="translate(493.90 424.60) rotate(-45) scale(1 1.1)"><tspan>BCOR</tspan><tspan font-size="4.37" dy="-2.29">PUFD-Tr</tspan></text>
</svg>
</body></html>
